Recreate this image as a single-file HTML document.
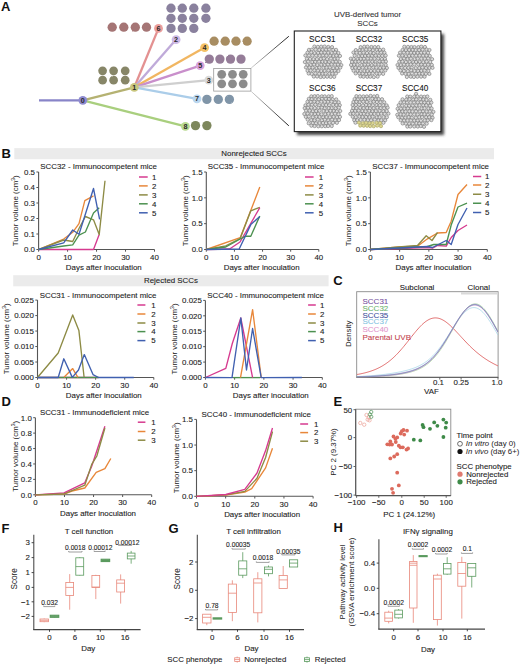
<!DOCTYPE html>
<html><head><meta charset="utf-8"><style>
html,body{margin:0;padding:0;background:#fff;}
body{width:520px;height:664px;overflow:hidden;}
svg{display:block;font-family:"Liberation Sans", sans-serif;}
</style></head><body>
<svg width="520" height="664" viewBox="0 0 520 664">
<text x="1.0" y="10.8" font-size="13" text-anchor="start" fill="#111" font-weight="bold">A</text>
<text x="1.4" y="157.8" font-size="13" text-anchor="start" fill="#111" font-weight="bold">B</text>
<text x="333.2" y="285.0" font-size="13" text-anchor="start" fill="#111" font-weight="bold">C</text>
<text x="1.4" y="405.6" font-size="13" text-anchor="start" fill="#111" font-weight="bold">D</text>
<text x="333.4" y="405.8" font-size="13" text-anchor="start" fill="#111" font-weight="bold">E</text>
<text x="1.5" y="532.5" font-size="13" text-anchor="start" fill="#111" font-weight="bold">F</text>
<text x="168.4" y="532.6" font-size="13" text-anchor="start" fill="#111" font-weight="bold">G</text>
<text x="333.4" y="532.3" font-size="13" text-anchor="start" fill="#111" font-weight="bold">H</text>
<line x1="39" y1="100.3" x2="82.8" y2="100.3" stroke="#8884c8" stroke-width="2.3"/>
<line x1="82.8" y1="100.3" x2="134.3" y2="87.3" stroke="#b5b272" stroke-width="2.3"/>
<line x1="82.8" y1="100.3" x2="185.4" y2="126.3" stroke="#a9cf7e" stroke-width="2.3"/>
<line x1="134.3" y1="87.3" x2="158.5" y2="28.4" stroke="#e39191" stroke-width="2.3"/>
<line x1="134.3" y1="87.3" x2="176.1" y2="39.6" stroke="#bfaad9" stroke-width="2.3"/>
<line x1="134.3" y1="87.3" x2="204.6" y2="47.6" stroke="#f1b661" stroke-width="2.3"/>
<line x1="134.3" y1="87.3" x2="200.2" y2="65.6" stroke="#c98fcb" stroke-width="2.3"/>
<line x1="134.3" y1="87.3" x2="208.8" y2="80.2" stroke="#cfcfcf" stroke-width="2.3"/>
<line x1="134.3" y1="87.3" x2="197.0" y2="98.8" stroke="#abcde9" stroke-width="2.3"/>
<defs><filter id="rough" x="-20%" y="-20%" width="140%" height="140%"><feTurbulence type="fractalNoise" baseFrequency="1.2" numOctaves="2" seed="4" result="n"/><feDisplacementMap in="SourceGraphic" in2="n" scale="1.6" xChannelSelector="R" yChannelSelector="G"/></filter></defs>
<g filter="url(#rough)">
<circle cx="112.2" cy="27.2" r="4.65" fill="#a57474"/>
<circle cx="123.8" cy="27.2" r="4.65" fill="#a57474"/>
<circle cx="135.3" cy="27.2" r="4.65" fill="#a57474"/>
<circle cx="146.5" cy="27.2" r="4.65" fill="#a57474"/>
<circle cx="171.0" cy="8.2" r="4.65" fill="#8a819e"/>
<circle cx="182.3" cy="8.2" r="4.65" fill="#8a819e"/>
<circle cx="193.8" cy="8.2" r="4.65" fill="#8a819e"/>
<circle cx="205.9" cy="8.2" r="4.65" fill="#8a819e"/>
<circle cx="171.0" cy="18.3" r="4.65" fill="#8a819e"/>
<circle cx="182.3" cy="18.3" r="4.65" fill="#8a819e"/>
<circle cx="193.8" cy="18.3" r="4.65" fill="#8a819e"/>
<circle cx="205.9" cy="18.3" r="4.65" fill="#8a819e"/>
<circle cx="171.0" cy="28.4" r="4.65" fill="#8a819e"/>
<circle cx="182.3" cy="28.4" r="4.65" fill="#8a819e"/>
<circle cx="193.8" cy="28.4" r="4.65" fill="#8a819e"/>
<circle cx="214.1" cy="41.2" r="4.65" fill="#a88d62"/>
<circle cx="225.2" cy="41.2" r="4.65" fill="#a88d62"/>
<circle cx="236.0" cy="41.2" r="4.65" fill="#a88d62"/>
<circle cx="247.1" cy="41.2" r="4.65" fill="#a88d62"/>
<circle cx="209.3" cy="59.1" r="4.65" fill="#957c98"/>
<circle cx="219.9" cy="59.1" r="4.65" fill="#957c98"/>
<circle cx="230.5" cy="59.1" r="4.65" fill="#957c98"/>
<circle cx="241.0" cy="59.1" r="4.65" fill="#957c98"/>
<circle cx="102.6" cy="70.8" r="4.35" fill="#878667"/>
<circle cx="113.6" cy="70.8" r="4.35" fill="#878667"/>
<circle cx="125.2" cy="70.8" r="4.35" fill="#878667"/>
<circle cx="102.6" cy="80.2" r="4.35" fill="#878667"/>
<circle cx="113.6" cy="80.2" r="4.35" fill="#878667"/>
<circle cx="125.2" cy="80.2" r="4.35" fill="#878667"/>
<circle cx="221.7" cy="74.3" r="4.4" fill="#8c8c8c"/>
<circle cx="232.5" cy="74.3" r="4.4" fill="#8c8c8c"/>
<circle cx="243.2" cy="74.3" r="4.4" fill="#8c8c8c"/>
<circle cx="221.7" cy="83.8" r="4.4" fill="#8c8c8c"/>
<circle cx="232.5" cy="83.8" r="4.4" fill="#8c8c8c"/>
<circle cx="243.2" cy="83.8" r="4.4" fill="#8c8c8c"/>
<circle cx="206.9" cy="99.4" r="4.65" fill="#8095a8"/>
<circle cx="218.3" cy="99.4" r="4.65" fill="#8095a8"/>
<circle cx="229.4" cy="99.4" r="4.65" fill="#8095a8"/>
<circle cx="195.5" cy="125.6" r="4.65" fill="#7d875c"/>
<circle cx="206.9" cy="125.6" r="4.65" fill="#7d875c"/>
</g>
<circle cx="82.8" cy="100.3" r="4.4" fill="#8f8bd0"/>
<text x="82.8" y="102.8" font-size="7.2" text-anchor="middle" fill="#2a2a2a" font-weight="bold">0</text>
<circle cx="134.3" cy="87.3" r="4.4" fill="#c9c67e"/>
<text x="134.3" y="89.8" font-size="7.2" text-anchor="middle" fill="#2a2a2a" font-weight="bold">1</text>
<circle cx="158.5" cy="28.4" r="4.4" fill="#eb9d9b"/>
<text x="158.5" y="30.9" font-size="7.2" text-anchor="middle" fill="#2a2a2a" font-weight="bold">6</text>
<circle cx="176.1" cy="39.6" r="4.4" fill="#cdb9e6"/>
<text x="176.1" y="42.1" font-size="7.2" text-anchor="middle" fill="#2a2a2a" font-weight="bold">2</text>
<circle cx="204.6" cy="47.6" r="4.4" fill="#f4c266"/>
<text x="204.6" y="50.1" font-size="7.2" text-anchor="middle" fill="#2a2a2a" font-weight="bold">4</text>
<circle cx="200.2" cy="65.6" r="4.4" fill="#d9a3dc"/>
<text x="200.2" y="68.1" font-size="7.2" text-anchor="middle" fill="#2a2a2a" font-weight="bold">5</text>
<circle cx="208.8" cy="80.2" r="4.4" fill="#d9d9d9"/>
<text x="208.8" y="82.7" font-size="7.2" text-anchor="middle" fill="#2a2a2a" font-weight="bold">3</text>
<circle cx="197.0" cy="98.8" r="4.4" fill="#b9d6ef"/>
<text x="197.0" y="101.3" font-size="7.2" text-anchor="middle" fill="#2a2a2a" font-weight="bold">7</text>
<circle cx="185.4" cy="126.3" r="4.4" fill="#b9da90"/>
<text x="185.4" y="128.8" font-size="7.2" text-anchor="middle" fill="#2a2a2a" font-weight="bold">8</text>
<rect x="213.7" y="68.5" width="37.2" height="22.6" fill="none" stroke="#9a9a9a" stroke-width="0.8"/>
<defs><linearGradient id="g1" x1="0" y1="0" x2="1" y2="0"><stop offset="0" stop-color="#ccc"/><stop offset="1" stop-color="#333"/></linearGradient></defs>
<defs><linearGradient id="gl" gradientUnits="userSpaceOnUse" x1="251" y1="0" x2="289" y2="0"><stop offset="0" stop-color="#d0d0d0"/><stop offset="1" stop-color="#1a1a1a"/></linearGradient></defs>
<path d="M251.2,68 L288.8,36.3" stroke="url(#gl)" stroke-width="1" fill="none"/>
<path d="M251.2,91.4 L288.8,125.8" stroke="url(#gl)" stroke-width="1" fill="none"/>
<defs><filter id="sh" x="-10%" y="-10%" width="130%" height="130%"><feGaussianBlur stdDeviation="1.6"/></filter></defs>
<rect x="297" y="34" width="147" height="101" fill="#444" filter="url(#sh)"/>
<rect x="294.3" y="31" width="146.6" height="100.6" fill="#fff" stroke="#222" stroke-width="1.1"/>
<text x="367.5" y="16.5" font-size="7.9" text-anchor="middle" fill="#333" stroke="#333" stroke-width="0.1">UVB-derived tumor</text>
<text x="367.5" y="25.5" font-size="7.9" text-anchor="middle" fill="#333" stroke="#333" stroke-width="0.1">SCCs</text>
<text x="322.3" y="42" font-size="8.2" text-anchor="middle" fill="#151515" stroke="#151515" stroke-width="0.1">SCC31</text>
<text x="369" y="42" font-size="8.2" text-anchor="middle" fill="#151515" stroke="#151515" stroke-width="0.1">SCC32</text>
<text x="415.2" y="42" font-size="8.2" text-anchor="middle" fill="#151515" stroke="#151515" stroke-width="0.1">SCC35</text>
<text x="322.3" y="91" font-size="8.2" text-anchor="middle" fill="#151515" stroke="#151515" stroke-width="0.1">SCC36</text>
<text x="369" y="91" font-size="8.2" text-anchor="middle" fill="#151515" stroke="#151515" stroke-width="0.1">SCC37</text>
<text x="415.2" y="91" font-size="8.2" text-anchor="middle" fill="#151515" stroke="#151515" stroke-width="0.1">SCC40</text>
<g fill="#dcdcdc" stroke="#6e6e6e" stroke-width="0.6"><circle cx="314.40" cy="46.53" r="1.62"/><circle cx="317.86" cy="46.86" r="1.62"/><circle cx="321.17" cy="46.66" r="1.62"/><circle cx="324.66" cy="46.53" r="1.62"/><circle cx="328.30" cy="46.96" r="1.62"/><circle cx="332.05" cy="47.11" r="1.62"/><circle cx="308.95" cy="49.85" r="1.62"/><circle cx="311.83" cy="49.67" r="1.62"/><circle cx="315.55" cy="49.62" r="1.62"/><circle cx="319.20" cy="49.97" r="1.62"/><circle cx="322.46" cy="49.86" r="1.62"/><circle cx="325.97" cy="49.77" r="1.62"/><circle cx="329.08" cy="49.53" r="1.62"/><circle cx="333.19" cy="49.91" r="1.62"/><circle cx="336.08" cy="49.85" r="1.62"/><circle cx="307.48" cy="52.68" r="1.62"/><circle cx="311.28" cy="52.49" r="1.62"/><circle cx="314.63" cy="53.11" r="1.62"/><circle cx="318.07" cy="52.85" r="1.62"/><circle cx="321.26" cy="52.53" r="1.62"/><circle cx="324.81" cy="52.63" r="1.62"/><circle cx="328.20" cy="52.74" r="1.62"/><circle cx="331.68" cy="52.92" r="1.62"/><circle cx="335.08" cy="52.51" r="1.62"/><circle cx="338.33" cy="52.90" r="1.62"/><circle cx="305.39" cy="55.48" r="1.62"/><circle cx="309.00" cy="55.55" r="1.62"/><circle cx="312.52" cy="55.52" r="1.62"/><circle cx="316.10" cy="55.59" r="1.62"/><circle cx="319.68" cy="55.79" r="1.62"/><circle cx="322.96" cy="55.49" r="1.62"/><circle cx="326.37" cy="55.61" r="1.62"/><circle cx="330.16" cy="55.83" r="1.62"/><circle cx="333.40" cy="56.05" r="1.62"/><circle cx="336.44" cy="55.58" r="1.62"/><circle cx="339.99" cy="55.97" r="1.62"/><circle cx="306.84" cy="58.74" r="1.62"/><circle cx="310.06" cy="58.90" r="1.62"/><circle cx="313.50" cy="59.14" r="1.62"/><circle cx="316.95" cy="59.06" r="1.62"/><circle cx="320.85" cy="58.98" r="1.62"/><circle cx="323.82" cy="58.47" r="1.62"/><circle cx="327.12" cy="59.04" r="1.62"/><circle cx="330.94" cy="58.58" r="1.62"/><circle cx="334.67" cy="58.96" r="1.62"/><circle cx="337.70" cy="58.71" r="1.62"/><circle cx="304.86" cy="62.06" r="1.62"/><circle cx="308.10" cy="61.59" r="1.62"/><circle cx="312.22" cy="62.00" r="1.62"/><circle cx="315.13" cy="61.92" r="1.62"/><circle cx="319.09" cy="61.69" r="1.62"/><circle cx="322.36" cy="61.79" r="1.62"/><circle cx="325.50" cy="61.96" r="1.62"/><circle cx="328.90" cy="62.09" r="1.62"/><circle cx="332.76" cy="61.87" r="1.62"/><circle cx="335.94" cy="61.69" r="1.62"/><circle cx="339.74" cy="61.87" r="1.62"/><circle cx="307.34" cy="65.02" r="1.62"/><circle cx="310.67" cy="64.99" r="1.62"/><circle cx="314.09" cy="64.59" r="1.62"/><circle cx="317.32" cy="65.06" r="1.62"/><circle cx="321.23" cy="64.76" r="1.62"/><circle cx="324.59" cy="65.02" r="1.62"/><circle cx="327.96" cy="64.50" r="1.62"/><circle cx="331.56" cy="64.47" r="1.62"/><circle cx="335.08" cy="64.73" r="1.62"/><circle cx="337.95" cy="64.61" r="1.62"/><circle cx="341.36" cy="65.08" r="1.62"/><circle cx="305.95" cy="67.45" r="1.62"/><circle cx="309.63" cy="67.63" r="1.62"/><circle cx="312.71" cy="67.64" r="1.62"/><circle cx="316.48" cy="68.10" r="1.62"/><circle cx="319.37" cy="67.58" r="1.62"/><circle cx="323.43" cy="67.81" r="1.62"/><circle cx="326.65" cy="67.61" r="1.62"/><circle cx="329.86" cy="67.60" r="1.62"/><circle cx="333.29" cy="68.11" r="1.62"/><circle cx="337.00" cy="67.88" r="1.62"/><circle cx="340.26" cy="67.64" r="1.62"/><circle cx="307.55" cy="70.83" r="1.62"/><circle cx="310.61" cy="70.58" r="1.62"/><circle cx="314.43" cy="70.46" r="1.62"/><circle cx="317.94" cy="70.62" r="1.62"/><circle cx="321.29" cy="71.02" r="1.62"/><circle cx="324.74" cy="70.97" r="1.62"/><circle cx="328.51" cy="70.53" r="1.62"/><circle cx="331.98" cy="70.99" r="1.62"/><circle cx="334.82" cy="70.77" r="1.62"/><circle cx="338.40" cy="71.04" r="1.62"/><circle cx="308.71" cy="73.53" r="1.62"/><circle cx="311.79" cy="73.90" r="1.62"/><circle cx="315.31" cy="73.45" r="1.62"/><circle cx="319.15" cy="73.79" r="1.62"/><circle cx="322.63" cy="73.72" r="1.62"/><circle cx="325.72" cy="73.58" r="1.62"/><circle cx="329.38" cy="73.69" r="1.62"/><circle cx="332.42" cy="73.65" r="1.62"/><circle cx="335.92" cy="73.58" r="1.62"/><circle cx="313.82" cy="76.56" r="1.62"/><circle cx="317.09" cy="76.55" r="1.62"/><circle cx="320.60" cy="77.02" r="1.62"/><circle cx="323.85" cy="76.84" r="1.62"/><circle cx="327.16" cy="76.75" r="1.62"/><circle cx="330.67" cy="76.92" r="1.62"/><circle cx="334.22" cy="76.87" r="1.62"/></g>
<g fill="#dcdcdc" stroke="#6e6e6e" stroke-width="0.6"><circle cx="360.64" cy="47.14" r="1.62"/><circle cx="364.22" cy="46.68" r="1.62"/><circle cx="367.51" cy="46.61" r="1.62"/><circle cx="371.43" cy="46.98" r="1.62"/><circle cx="374.80" cy="47.07" r="1.62"/><circle cx="378.26" cy="47.05" r="1.62"/><circle cx="355.81" cy="50.08" r="1.62"/><circle cx="359.52" cy="50.13" r="1.62"/><circle cx="362.75" cy="50.14" r="1.62"/><circle cx="366.15" cy="49.65" r="1.62"/><circle cx="369.74" cy="49.62" r="1.62"/><circle cx="372.89" cy="50.14" r="1.62"/><circle cx="376.82" cy="49.99" r="1.62"/><circle cx="379.97" cy="49.96" r="1.62"/><circle cx="383.27" cy="49.64" r="1.62"/><circle cx="353.44" cy="52.53" r="1.62"/><circle cx="356.56" cy="52.65" r="1.62"/><circle cx="359.89" cy="52.85" r="1.62"/><circle cx="363.44" cy="52.63" r="1.62"/><circle cx="367.01" cy="52.99" r="1.62"/><circle cx="370.42" cy="52.61" r="1.62"/><circle cx="373.67" cy="53.16" r="1.62"/><circle cx="377.58" cy="52.50" r="1.62"/><circle cx="381.08" cy="52.60" r="1.62"/><circle cx="384.45" cy="52.76" r="1.62"/><circle cx="354.62" cy="55.79" r="1.62"/><circle cx="358.56" cy="56.11" r="1.62"/><circle cx="362.10" cy="55.97" r="1.62"/><circle cx="365.10" cy="55.94" r="1.62"/><circle cx="368.46" cy="55.79" r="1.62"/><circle cx="371.93" cy="55.88" r="1.62"/><circle cx="375.65" cy="55.58" r="1.62"/><circle cx="378.92" cy="55.90" r="1.62"/><circle cx="382.21" cy="55.87" r="1.62"/><circle cx="385.68" cy="55.50" r="1.62"/><circle cx="350.83" cy="58.63" r="1.62"/><circle cx="353.76" cy="58.88" r="1.62"/><circle cx="357.60" cy="58.96" r="1.62"/><circle cx="360.78" cy="58.83" r="1.62"/><circle cx="363.96" cy="58.75" r="1.62"/><circle cx="367.89" cy="58.63" r="1.62"/><circle cx="370.96" cy="58.62" r="1.62"/><circle cx="374.65" cy="58.79" r="1.62"/><circle cx="378.19" cy="58.61" r="1.62"/><circle cx="381.86" cy="58.97" r="1.62"/><circle cx="385.00" cy="58.87" r="1.62"/><circle cx="351.96" cy="61.88" r="1.62"/><circle cx="355.46" cy="61.71" r="1.62"/><circle cx="358.70" cy="61.52" r="1.62"/><circle cx="362.26" cy="61.92" r="1.62"/><circle cx="365.43" cy="61.74" r="1.62"/><circle cx="368.71" cy="61.86" r="1.62"/><circle cx="372.22" cy="61.71" r="1.62"/><circle cx="375.52" cy="61.98" r="1.62"/><circle cx="379.32" cy="61.72" r="1.62"/><circle cx="382.89" cy="61.73" r="1.62"/><circle cx="385.90" cy="61.51" r="1.62"/><circle cx="351.07" cy="64.94" r="1.62"/><circle cx="354.23" cy="64.76" r="1.62"/><circle cx="357.61" cy="64.81" r="1.62"/><circle cx="361.54" cy="65.00" r="1.62"/><circle cx="364.91" cy="64.65" r="1.62"/><circle cx="368.12" cy="64.62" r="1.62"/><circle cx="371.70" cy="65.08" r="1.62"/><circle cx="375.25" cy="64.50" r="1.62"/><circle cx="378.83" cy="64.54" r="1.62"/><circle cx="381.62" cy="64.50" r="1.62"/><circle cx="385.72" cy="64.89" r="1.62"/><circle cx="352.28" cy="68.09" r="1.62"/><circle cx="355.42" cy="67.79" r="1.62"/><circle cx="358.98" cy="68.05" r="1.62"/><circle cx="362.75" cy="67.71" r="1.62"/><circle cx="366.25" cy="67.83" r="1.62"/><circle cx="369.46" cy="67.45" r="1.62"/><circle cx="373.22" cy="67.55" r="1.62"/><circle cx="376.39" cy="67.71" r="1.62"/><circle cx="380.16" cy="67.92" r="1.62"/><circle cx="383.63" cy="67.66" r="1.62"/><circle cx="386.87" cy="67.96" r="1.62"/><circle cx="353.58" cy="70.74" r="1.62"/><circle cx="357.64" cy="70.87" r="1.62"/><circle cx="360.48" cy="71.07" r="1.62"/><circle cx="364.35" cy="71.05" r="1.62"/><circle cx="367.44" cy="70.98" r="1.62"/><circle cx="370.96" cy="70.93" r="1.62"/><circle cx="374.40" cy="70.98" r="1.62"/><circle cx="378.15" cy="70.72" r="1.62"/><circle cx="381.57" cy="70.74" r="1.62"/><circle cx="385.30" cy="70.46" r="1.62"/><circle cx="355.69" cy="73.42" r="1.62"/><circle cx="359.32" cy="73.52" r="1.62"/><circle cx="362.79" cy="73.68" r="1.62"/><circle cx="366.24" cy="74.01" r="1.62"/><circle cx="369.25" cy="73.67" r="1.62"/><circle cx="372.80" cy="73.41" r="1.62"/><circle cx="376.72" cy="73.66" r="1.62"/><circle cx="379.76" cy="73.71" r="1.62"/><circle cx="383.16" cy="73.86" r="1.62"/><circle cx="360.41" cy="76.45" r="1.62"/><circle cx="363.54" cy="76.76" r="1.62"/><circle cx="367.28" cy="76.83" r="1.62"/><circle cx="370.33" cy="76.71" r="1.62"/><circle cx="373.81" cy="77.06" r="1.62"/><circle cx="377.64" cy="76.65" r="1.62"/></g>
<g fill="#dcdcdc" stroke="#6e6e6e" stroke-width="0.6"><circle cx="404.33" cy="46.72" r="1.62"/><circle cx="407.97" cy="46.84" r="1.62"/><circle cx="411.43" cy="47.01" r="1.62"/><circle cx="414.54" cy="47.07" r="1.62"/><circle cx="418.37" cy="47.13" r="1.62"/><circle cx="421.26" cy="46.66" r="1.62"/><circle cx="424.92" cy="46.95" r="1.62"/><circle cx="402.55" cy="49.97" r="1.62"/><circle cx="405.90" cy="50.17" r="1.62"/><circle cx="409.15" cy="50.00" r="1.62"/><circle cx="412.78" cy="49.90" r="1.62"/><circle cx="415.70" cy="50.10" r="1.62"/><circle cx="419.16" cy="50.06" r="1.62"/><circle cx="422.66" cy="49.70" r="1.62"/><circle cx="426.61" cy="49.53" r="1.62"/><circle cx="429.48" cy="50.00" r="1.62"/><circle cx="400.05" cy="52.63" r="1.62"/><circle cx="403.91" cy="52.60" r="1.62"/><circle cx="407.54" cy="52.71" r="1.62"/><circle cx="411.01" cy="52.75" r="1.62"/><circle cx="414.20" cy="52.94" r="1.62"/><circle cx="417.67" cy="52.92" r="1.62"/><circle cx="421.09" cy="52.79" r="1.62"/><circle cx="424.35" cy="52.70" r="1.62"/><circle cx="428.00" cy="52.87" r="1.62"/><circle cx="398.91" cy="55.72" r="1.62"/><circle cx="402.41" cy="55.49" r="1.62"/><circle cx="405.81" cy="56.15" r="1.62"/><circle cx="409.11" cy="55.89" r="1.62"/><circle cx="412.49" cy="55.69" r="1.62"/><circle cx="416.11" cy="55.68" r="1.62"/><circle cx="419.68" cy="55.49" r="1.62"/><circle cx="423.10" cy="55.69" r="1.62"/><circle cx="426.60" cy="55.64" r="1.62"/><circle cx="429.79" cy="55.96" r="1.62"/><circle cx="400.88" cy="59.08" r="1.62"/><circle cx="404.03" cy="58.55" r="1.62"/><circle cx="407.46" cy="59.03" r="1.62"/><circle cx="410.90" cy="58.66" r="1.62"/><circle cx="414.67" cy="59.03" r="1.62"/><circle cx="417.77" cy="58.67" r="1.62"/><circle cx="421.32" cy="58.70" r="1.62"/><circle cx="424.87" cy="58.75" r="1.62"/><circle cx="428.13" cy="58.47" r="1.62"/><circle cx="432.09" cy="59.15" r="1.62"/><circle cx="399.18" cy="61.65" r="1.62"/><circle cx="402.42" cy="61.50" r="1.62"/><circle cx="405.91" cy="62.02" r="1.62"/><circle cx="409.80" cy="61.94" r="1.62"/><circle cx="413.24" cy="62.08" r="1.62"/><circle cx="416.07" cy="61.97" r="1.62"/><circle cx="419.72" cy="61.91" r="1.62"/><circle cx="423.25" cy="62.11" r="1.62"/><circle cx="426.65" cy="61.63" r="1.62"/><circle cx="430.20" cy="62.00" r="1.62"/><circle cx="397.52" cy="65.01" r="1.62"/><circle cx="400.85" cy="65.04" r="1.62"/><circle cx="404.05" cy="64.63" r="1.62"/><circle cx="407.60" cy="64.77" r="1.62"/><circle cx="410.76" cy="64.48" r="1.62"/><circle cx="414.29" cy="64.49" r="1.62"/><circle cx="418.25" cy="64.50" r="1.62"/><circle cx="421.33" cy="64.66" r="1.62"/><circle cx="425.01" cy="64.85" r="1.62"/><circle cx="428.14" cy="64.67" r="1.62"/><circle cx="431.84" cy="64.94" r="1.62"/><circle cx="398.48" cy="67.86" r="1.62"/><circle cx="401.62" cy="67.77" r="1.62"/><circle cx="405.11" cy="67.91" r="1.62"/><circle cx="408.44" cy="67.80" r="1.62"/><circle cx="411.76" cy="67.72" r="1.62"/><circle cx="415.78" cy="68.08" r="1.62"/><circle cx="419.24" cy="67.98" r="1.62"/><circle cx="422.39" cy="67.51" r="1.62"/><circle cx="425.98" cy="68.05" r="1.62"/><circle cx="429.43" cy="67.94" r="1.62"/><circle cx="432.49" cy="67.84" r="1.62"/><circle cx="400.48" cy="70.43" r="1.62"/><circle cx="403.89" cy="71.00" r="1.62"/><circle cx="407.84" cy="71.08" r="1.62"/><circle cx="411.26" cy="70.44" r="1.62"/><circle cx="414.51" cy="70.91" r="1.62"/><circle cx="418.13" cy="71.07" r="1.62"/><circle cx="421.28" cy="70.81" r="1.62"/><circle cx="424.67" cy="70.54" r="1.62"/><circle cx="428.39" cy="70.94" r="1.62"/><circle cx="402.09" cy="73.51" r="1.62"/><circle cx="405.55" cy="73.87" r="1.62"/><circle cx="408.81" cy="73.85" r="1.62"/><circle cx="412.02" cy="73.47" r="1.62"/><circle cx="416.01" cy="73.76" r="1.62"/><circle cx="419.32" cy="73.53" r="1.62"/><circle cx="422.41" cy="73.81" r="1.62"/><circle cx="425.88" cy="73.88" r="1.62"/><circle cx="429.38" cy="73.89" r="1.62"/><circle cx="406.87" cy="76.93" r="1.62"/><circle cx="410.79" cy="76.72" r="1.62"/><circle cx="413.87" cy="76.97" r="1.62"/><circle cx="417.39" cy="76.73" r="1.62"/><circle cx="421.05" cy="76.67" r="1.62"/><circle cx="424.57" cy="76.72" r="1.62"/></g>
<g fill="#dcdcdc" stroke="#6e6e6e" stroke-width="0.6"><circle cx="311.34" cy="96.33" r="1.62"/><circle cx="314.62" cy="96.18" r="1.62"/><circle cx="317.77" cy="96.04" r="1.62"/><circle cx="321.75" cy="96.32" r="1.62"/><circle cx="324.75" cy="96.35" r="1.62"/><circle cx="328.61" cy="96.31" r="1.62"/><circle cx="331.73" cy="96.13" r="1.62"/><circle cx="308.80" cy="98.84" r="1.62"/><circle cx="311.70" cy="99.14" r="1.62"/><circle cx="315.25" cy="99.22" r="1.62"/><circle cx="318.85" cy="99.33" r="1.62"/><circle cx="321.95" cy="98.86" r="1.62"/><circle cx="325.79" cy="98.87" r="1.62"/><circle cx="328.93" cy="99.02" r="1.62"/><circle cx="332.74" cy="99.33" r="1.62"/><circle cx="336.22" cy="99.37" r="1.62"/><circle cx="307.46" cy="101.82" r="1.62"/><circle cx="310.80" cy="101.95" r="1.62"/><circle cx="314.39" cy="101.69" r="1.62"/><circle cx="317.72" cy="102.24" r="1.62"/><circle cx="321.26" cy="101.75" r="1.62"/><circle cx="324.80" cy="101.83" r="1.62"/><circle cx="327.99" cy="101.80" r="1.62"/><circle cx="331.51" cy="101.72" r="1.62"/><circle cx="335.03" cy="102.39" r="1.62"/><circle cx="338.68" cy="102.23" r="1.62"/><circle cx="305.51" cy="105.26" r="1.62"/><circle cx="308.36" cy="104.85" r="1.62"/><circle cx="311.94" cy="104.84" r="1.62"/><circle cx="315.34" cy="104.71" r="1.62"/><circle cx="319.09" cy="105.37" r="1.62"/><circle cx="322.77" cy="105.13" r="1.62"/><circle cx="326.11" cy="105.02" r="1.62"/><circle cx="329.19" cy="105.29" r="1.62"/><circle cx="333.14" cy="104.91" r="1.62"/><circle cx="336.50" cy="105.12" r="1.62"/><circle cx="339.76" cy="105.13" r="1.62"/><circle cx="304.66" cy="108.13" r="1.62"/><circle cx="308.06" cy="107.75" r="1.62"/><circle cx="311.35" cy="107.70" r="1.62"/><circle cx="314.78" cy="108.06" r="1.62"/><circle cx="318.43" cy="107.82" r="1.62"/><circle cx="321.88" cy="107.67" r="1.62"/><circle cx="324.76" cy="108.23" r="1.62"/><circle cx="328.75" cy="108.05" r="1.62"/><circle cx="331.72" cy="108.13" r="1.62"/><circle cx="335.66" cy="108.20" r="1.62"/><circle cx="338.85" cy="107.68" r="1.62"/><circle cx="306.00" cy="110.66" r="1.62"/><circle cx="309.67" cy="110.71" r="1.62"/><circle cx="312.80" cy="111.20" r="1.62"/><circle cx="316.15" cy="110.99" r="1.62"/><circle cx="319.50" cy="110.73" r="1.62"/><circle cx="323.51" cy="111.01" r="1.62"/><circle cx="326.94" cy="111.19" r="1.62"/><circle cx="330.40" cy="110.79" r="1.62"/><circle cx="333.82" cy="110.95" r="1.62"/><circle cx="336.80" cy="111.26" r="1.62"/><circle cx="340.24" cy="111.00" r="1.62"/><circle cx="304.34" cy="113.98" r="1.62"/><circle cx="307.75" cy="113.69" r="1.62"/><circle cx="311.45" cy="113.89" r="1.62"/><circle cx="315.00" cy="114.08" r="1.62"/><circle cx="318.19" cy="113.86" r="1.62"/><circle cx="321.54" cy="114.28" r="1.62"/><circle cx="325.27" cy="114.19" r="1.62"/><circle cx="328.42" cy="113.74" r="1.62"/><circle cx="331.81" cy="114.10" r="1.62"/><circle cx="335.07" cy="113.74" r="1.62"/><circle cx="338.58" cy="114.27" r="1.62"/><circle cx="305.80" cy="116.85" r="1.62"/><circle cx="308.81" cy="116.64" r="1.62"/><circle cx="312.83" cy="117.19" r="1.62"/><circle cx="316.36" cy="116.74" r="1.62"/><circle cx="319.49" cy="117.03" r="1.62"/><circle cx="323.13" cy="117.30" r="1.62"/><circle cx="326.50" cy="117.10" r="1.62"/><circle cx="329.93" cy="117.21" r="1.62"/><circle cx="333.59" cy="116.91" r="1.62"/><circle cx="337.02" cy="117.12" r="1.62"/><circle cx="340.01" cy="116.85" r="1.62"/><circle cx="307.69" cy="119.62" r="1.62"/><circle cx="311.23" cy="120.10" r="1.62"/><circle cx="314.56" cy="120.28" r="1.62"/><circle cx="317.86" cy="119.66" r="1.62"/><circle cx="321.90" cy="120.26" r="1.62"/><circle cx="324.87" cy="119.68" r="1.62"/><circle cx="328.26" cy="120.26" r="1.62"/><circle cx="332.10" cy="119.72" r="1.62"/><circle cx="335.21" cy="120.28" r="1.62"/><circle cx="339.01" cy="120.09" r="1.62"/><circle cx="308.72" cy="123.30" r="1.62"/><circle cx="312.75" cy="123.09" r="1.62"/><circle cx="316.04" cy="123.27" r="1.62"/><circle cx="319.53" cy="122.99" r="1.62"/><circle cx="322.99" cy="122.99" r="1.62"/><circle cx="326.04" cy="123.19" r="1.62"/><circle cx="329.43" cy="122.72" r="1.62"/><circle cx="333.01" cy="122.87" r="1.62"/><circle cx="336.88" cy="122.83" r="1.62"/><circle cx="311.40" cy="125.75" r="1.62"/><circle cx="314.61" cy="126.09" r="1.62"/><circle cx="318.30" cy="126.29" r="1.62"/><circle cx="321.82" cy="126.24" r="1.62"/><circle cx="325.22" cy="126.17" r="1.62"/><circle cx="328.15" cy="126.02" r="1.62"/><circle cx="331.74" cy="126.04" r="1.62"/></g>
<g fill="#dcdcdc" stroke="#6e6e6e" stroke-width="0.6"><circle cx="356.43" cy="96.14" r="1.62"/><circle cx="359.79" cy="96.32" r="1.62"/><circle cx="363.39" cy="96.40" r="1.62"/><circle cx="366.89" cy="96.38" r="1.62"/><circle cx="370.61" cy="95.85" r="1.62"/><circle cx="374.07" cy="96.39" r="1.62"/><circle cx="377.24" cy="95.96" r="1.62"/><circle cx="354.58" cy="99.04" r="1.62"/><circle cx="357.84" cy="99.38" r="1.62"/><circle cx="361.78" cy="99.29" r="1.62"/><circle cx="365.26" cy="98.96" r="1.62"/><circle cx="368.16" cy="98.73" r="1.62"/><circle cx="372.27" cy="98.84" r="1.62"/><circle cx="375.70" cy="99.36" r="1.62"/><circle cx="378.75" cy="99.07" r="1.62"/><circle cx="382.03" cy="99.22" r="1.62"/><circle cx="353.38" cy="102.07" r="1.62"/><circle cx="356.41" cy="101.81" r="1.62"/><circle cx="359.74" cy="102.17" r="1.62"/><circle cx="363.20" cy="101.72" r="1.62"/><circle cx="366.91" cy="101.97" r="1.62"/><circle cx="370.40" cy="102.27" r="1.62"/><circle cx="373.73" cy="101.73" r="1.62"/><circle cx="376.91" cy="102.03" r="1.62"/><circle cx="380.43" cy="102.20" r="1.62"/><circle cx="384.23" cy="102.24" r="1.62"/><circle cx="352.60" cy="104.99" r="1.62"/><circle cx="355.87" cy="105.01" r="1.62"/><circle cx="359.10" cy="104.78" r="1.62"/><circle cx="362.96" cy="105.35" r="1.62"/><circle cx="366.06" cy="104.91" r="1.62"/><circle cx="369.35" cy="105.22" r="1.62"/><circle cx="372.87" cy="105.22" r="1.62"/><circle cx="376.55" cy="105.14" r="1.62"/><circle cx="379.77" cy="105.17" r="1.62"/><circle cx="383.30" cy="105.21" r="1.62"/><circle cx="386.62" cy="105.34" r="1.62"/><circle cx="353.21" cy="108.12" r="1.62"/><circle cx="356.33" cy="108.11" r="1.62"/><circle cx="360.12" cy="107.91" r="1.62"/><circle cx="363.60" cy="108.14" r="1.62"/><circle cx="367.11" cy="108.02" r="1.62"/><circle cx="370.01" cy="108.25" r="1.62"/><circle cx="373.67" cy="108.15" r="1.62"/><circle cx="377.30" cy="107.78" r="1.62"/><circle cx="380.65" cy="108.13" r="1.62"/><circle cx="384.13" cy="108.20" r="1.62"/><circle cx="387.64" cy="107.68" r="1.62"/><circle cx="352.01" cy="110.81" r="1.62"/><circle cx="355.22" cy="110.87" r="1.62"/><circle cx="358.72" cy="110.67" r="1.62"/><circle cx="362.30" cy="111.08" r="1.62"/><circle cx="365.65" cy="111.28" r="1.62"/><circle cx="369.21" cy="110.84" r="1.62"/><circle cx="372.46" cy="111.23" r="1.62"/><circle cx="375.86" cy="111.08" r="1.62"/><circle cx="379.66" cy="110.89" r="1.62"/><circle cx="383.40" cy="111.22" r="1.62"/><circle cx="386.75" cy="111.10" r="1.62"/><circle cx="350.32" cy="113.88" r="1.62"/><circle cx="353.34" cy="113.71" r="1.62"/><circle cx="357.22" cy="113.74" r="1.62"/><circle cx="360.86" cy="113.90" r="1.62"/><circle cx="363.85" cy="113.84" r="1.62"/><circle cx="367.41" cy="114.31" r="1.62"/><circle cx="371.01" cy="113.82" r="1.62"/><circle cx="374.39" cy="113.93" r="1.62"/><circle cx="378.18" cy="113.98" r="1.62"/><circle cx="381.27" cy="113.72" r="1.62"/><circle cx="384.70" cy="113.84" r="1.62"/><circle cx="388.42" cy="113.65" r="1.62"/><circle cx="352.71" cy="116.83" r="1.62"/><circle cx="355.80" cy="117.08" r="1.62"/><circle cx="359.44" cy="116.71" r="1.62"/><circle cx="362.58" cy="117.00" r="1.62"/><circle cx="366.03" cy="117.00" r="1.62"/><circle cx="369.53" cy="117.15" r="1.62"/><circle cx="372.75" cy="116.80" r="1.62"/><circle cx="376.81" cy="117.25" r="1.62"/><circle cx="379.63" cy="117.17" r="1.62"/><circle cx="383.48" cy="117.12" r="1.62"/><circle cx="386.86" cy="117.26" r="1.62"/><circle cx="354.23" cy="120.10" r="1.62"/><circle cx="357.30" cy="120.16" r="1.62"/><circle cx="360.65" cy="119.95" r="1.62"/><circle cx="364.35" cy="119.84" r="1.62"/><circle cx="367.86" cy="120.18" r="1.62"/><circle cx="371.06" cy="120.19" r="1.62"/><circle cx="374.81" cy="119.63" r="1.62"/><circle cx="378.48" cy="120.31" r="1.62"/><circle cx="381.28" cy="120.20" r="1.62"/><circle cx="385.15" cy="120.28" r="1.62"/><circle cx="355.48" cy="122.68" r="1.62"/><circle cx="383.44" cy="122.78" r="1.62"/></g>
<g fill="#dcd692" stroke="#a39e5c" stroke-width="0.6"><circle cx="358.95" cy="122.64" r="1.62"/><circle cx="362.87" cy="123.22" r="1.62"/><circle cx="366.10" cy="122.82" r="1.62"/><circle cx="369.59" cy="123.26" r="1.62"/><circle cx="372.74" cy="123.09" r="1.62"/><circle cx="376.59" cy="122.95" r="1.62"/><circle cx="379.99" cy="123.04" r="1.62"/><circle cx="360.27" cy="125.65" r="1.62"/><circle cx="363.67" cy="125.76" r="1.62"/><circle cx="367.04" cy="125.81" r="1.62"/><circle cx="370.18" cy="126.10" r="1.62"/><circle cx="373.71" cy="126.25" r="1.62"/><circle cx="377.21" cy="125.67" r="1.62"/><circle cx="380.97" cy="126.16" r="1.62"/></g>
<g fill="#dcdcdc" stroke="#6e6e6e" stroke-width="0.6"><circle cx="416.09" cy="93.79" r="1.62"/><circle cx="407.21" cy="96.52" r="1.62"/><circle cx="410.23" cy="96.66" r="1.62"/><circle cx="414.21" cy="96.62" r="1.62"/><circle cx="417.45" cy="96.46" r="1.62"/><circle cx="421.08" cy="96.57" r="1.62"/><circle cx="424.38" cy="96.78" r="1.62"/><circle cx="427.36" cy="96.46" r="1.62"/><circle cx="402.54" cy="99.30" r="1.62"/><circle cx="406.26" cy="99.69" r="1.62"/><circle cx="409.65" cy="99.21" r="1.62"/><circle cx="413.19" cy="99.63" r="1.62"/><circle cx="416.27" cy="99.47" r="1.62"/><circle cx="420.16" cy="99.24" r="1.62"/><circle cx="423.43" cy="99.48" r="1.62"/><circle cx="426.53" cy="99.88" r="1.62"/><circle cx="430.28" cy="99.82" r="1.62"/><circle cx="400.57" cy="102.37" r="1.62"/><circle cx="404.04" cy="102.31" r="1.62"/><circle cx="407.03" cy="102.60" r="1.62"/><circle cx="410.57" cy="102.50" r="1.62"/><circle cx="414.02" cy="102.47" r="1.62"/><circle cx="417.72" cy="102.37" r="1.62"/><circle cx="421.08" cy="102.29" r="1.62"/><circle cx="424.41" cy="102.75" r="1.62"/><circle cx="428.11" cy="102.87" r="1.62"/><circle cx="431.36" cy="102.61" r="1.62"/><circle cx="398.69" cy="105.20" r="1.62"/><circle cx="402.18" cy="105.68" r="1.62"/><circle cx="406.21" cy="105.77" r="1.62"/><circle cx="409.14" cy="105.84" r="1.62"/><circle cx="412.75" cy="105.72" r="1.62"/><circle cx="416.25" cy="105.50" r="1.62"/><circle cx="419.61" cy="105.28" r="1.62"/><circle cx="423.23" cy="105.28" r="1.62"/><circle cx="426.32" cy="105.25" r="1.62"/><circle cx="430.03" cy="105.80" r="1.62"/><circle cx="397.61" cy="108.79" r="1.62"/><circle cx="400.91" cy="108.72" r="1.62"/><circle cx="404.53" cy="108.80" r="1.62"/><circle cx="407.87" cy="108.48" r="1.62"/><circle cx="411.27" cy="108.21" r="1.62"/><circle cx="414.91" cy="108.36" r="1.62"/><circle cx="417.73" cy="108.76" r="1.62"/><circle cx="421.80" cy="108.46" r="1.62"/><circle cx="424.60" cy="108.22" r="1.62"/><circle cx="428.47" cy="108.54" r="1.62"/><circle cx="431.60" cy="108.42" r="1.62"/><circle cx="399.13" cy="111.23" r="1.62"/><circle cx="402.39" cy="111.50" r="1.62"/><circle cx="405.57" cy="111.51" r="1.62"/><circle cx="409.34" cy="111.26" r="1.62"/><circle cx="412.52" cy="111.55" r="1.62"/><circle cx="416.02" cy="111.31" r="1.62"/><circle cx="419.96" cy="111.44" r="1.62"/><circle cx="422.99" cy="111.32" r="1.62"/><circle cx="426.77" cy="111.55" r="1.62"/><circle cx="429.90" cy="111.42" r="1.62"/><circle cx="433.40" cy="111.85" r="1.62"/><circle cx="397.30" cy="114.82" r="1.62"/><circle cx="400.72" cy="114.41" r="1.62"/><circle cx="403.76" cy="114.67" r="1.62"/><circle cx="407.68" cy="114.21" r="1.62"/><circle cx="410.66" cy="114.52" r="1.62"/><circle cx="414.24" cy="114.53" r="1.62"/><circle cx="417.74" cy="114.47" r="1.62"/><circle cx="421.59" cy="114.26" r="1.62"/><circle cx="424.52" cy="114.22" r="1.62"/><circle cx="427.92" cy="114.78" r="1.62"/><circle cx="431.81" cy="114.65" r="1.62"/><circle cx="398.36" cy="117.30" r="1.62"/><circle cx="401.91" cy="117.82" r="1.62"/><circle cx="405.32" cy="117.67" r="1.62"/><circle cx="408.71" cy="117.15" r="1.62"/><circle cx="411.82" cy="117.79" r="1.62"/><circle cx="415.84" cy="117.79" r="1.62"/><circle cx="419.23" cy="117.16" r="1.62"/><circle cx="422.10" cy="117.17" r="1.62"/><circle cx="426.12" cy="117.19" r="1.62"/><circle cx="429.18" cy="117.22" r="1.62"/><circle cx="432.57" cy="117.81" r="1.62"/><circle cx="400.72" cy="120.25" r="1.62"/><circle cx="404.12" cy="120.52" r="1.62"/><circle cx="407.57" cy="120.47" r="1.62"/><circle cx="410.87" cy="120.44" r="1.62"/><circle cx="414.27" cy="120.60" r="1.62"/><circle cx="417.68" cy="120.70" r="1.62"/><circle cx="420.91" cy="120.76" r="1.62"/><circle cx="424.85" cy="120.35" r="1.62"/><circle cx="427.79" cy="120.37" r="1.62"/><circle cx="431.41" cy="120.12" r="1.62"/><circle cx="402.66" cy="123.46" r="1.62"/><circle cx="405.89" cy="123.64" r="1.62"/><circle cx="409.23" cy="123.80" r="1.62"/><circle cx="412.84" cy="123.71" r="1.62"/><circle cx="416.43" cy="123.15" r="1.62"/><circle cx="419.40" cy="123.52" r="1.62"/><circle cx="422.88" cy="123.45" r="1.62"/><circle cx="426.70" cy="123.65" r="1.62"/><circle cx="407.35" cy="126.61" r="1.62"/><circle cx="410.27" cy="126.52" r="1.62"/><circle cx="414.21" cy="126.49" r="1.62"/><circle cx="417.78" cy="126.53" r="1.62"/><circle cx="420.74" cy="126.09" r="1.62"/><circle cx="424.02" cy="126.78" r="1.62"/></g>
<rect x="14.3" y="148.1" width="479.7" height="11.1" fill="#ebebeb"/>
<text x="254" y="156.2" font-size="7.9" text-anchor="middle" fill="#222" stroke="#222" stroke-width="0.1">Nonrejected SCCs</text>
<rect x="13.2" y="275.2" width="315.4" height="11.1" fill="#ebebeb"/>
<text x="171" y="283.4" font-size="7.9" text-anchor="middle" fill="#222" stroke="#222" stroke-width="0.1">Rejected SCCs</text>
<line x1="38.6" y1="172" x2="38.6" y2="250.0" stroke="#555" stroke-width="1.1"/>
<line x1="38.1" y1="249.5" x2="154.5" y2="249.5" stroke="#555" stroke-width="1.1"/>
<line x1="36.4" y1="249.5" x2="38.6" y2="249.5" stroke="#555" stroke-width="1"/>
<text x="35.0" y="252.3" font-size="7.9" text-anchor="end" fill="#222" stroke="#222" stroke-width="0.1">0.0</text>
<line x1="36.4" y1="234.0" x2="38.6" y2="234.0" stroke="#555" stroke-width="1"/>
<text x="35.0" y="236.8" font-size="7.9" text-anchor="end" fill="#222" stroke="#222" stroke-width="0.1">0.1</text>
<line x1="36.4" y1="218.5" x2="38.6" y2="218.5" stroke="#555" stroke-width="1"/>
<text x="35.0" y="221.3" font-size="7.9" text-anchor="end" fill="#222" stroke="#222" stroke-width="0.1">0.2</text>
<line x1="36.4" y1="203.0" x2="38.6" y2="203.0" stroke="#555" stroke-width="1"/>
<text x="35.0" y="205.8" font-size="7.9" text-anchor="end" fill="#222" stroke="#222" stroke-width="0.1">0.3</text>
<line x1="36.4" y1="187.5" x2="38.6" y2="187.5" stroke="#555" stroke-width="1"/>
<text x="35.0" y="190.3" font-size="7.9" text-anchor="end" fill="#222" stroke="#222" stroke-width="0.1">0.4</text>
<line x1="36.4" y1="172.0" x2="38.6" y2="172.0" stroke="#555" stroke-width="1"/>
<text x="35.0" y="174.8" font-size="7.9" text-anchor="end" fill="#222" stroke="#222" stroke-width="0.1">0.5</text>
<line x1="38.6" y1="249.5" x2="38.6" y2="251.7" stroke="#555" stroke-width="1"/>
<text x="38.6" y="259.7" font-size="7.9" text-anchor="middle" fill="#222" stroke="#222" stroke-width="0.1">0</text>
<line x1="67.575" y1="249.5" x2="67.575" y2="251.7" stroke="#555" stroke-width="1"/>
<text x="67.575" y="259.7" font-size="7.9" text-anchor="middle" fill="#222" stroke="#222" stroke-width="0.1">10</text>
<line x1="96.55000000000001" y1="249.5" x2="96.55000000000001" y2="251.7" stroke="#555" stroke-width="1"/>
<text x="96.55000000000001" y="259.7" font-size="7.9" text-anchor="middle" fill="#222" stroke="#222" stroke-width="0.1">20</text>
<line x1="125.525" y1="249.5" x2="125.525" y2="251.7" stroke="#555" stroke-width="1"/>
<text x="125.525" y="259.7" font-size="7.9" text-anchor="middle" fill="#222" stroke="#222" stroke-width="0.1">30</text>
<line x1="154.5" y1="249.5" x2="154.5" y2="251.7" stroke="#555" stroke-width="1"/>
<text x="154.5" y="259.7" font-size="7.9" text-anchor="middle" fill="#222" stroke="#222" stroke-width="0.1">40</text>
<text x="98.6" y="169.3" font-size="7.9" text-anchor="middle" fill="#222" stroke="#222" stroke-width="0.1">SCC32 - Immunocompetent mice</text>
<text x="103.8" y="270.1" font-size="7.9" text-anchor="middle" fill="#222" stroke="#222" stroke-width="0.1">Days after inoculation</text>
<text x="18.0" y="210.75" font-size="7.9" text-anchor="middle" fill="#222" transform="rotate(-90 18.0 210.75)">Tumor volume (cm<tspan font-size="5.2" dy="-3">3</tspan><tspan dy="3">)</tspan></text>
<line x1="139" y1="177" x2="147.7" y2="177" stroke="#d63a8f" stroke-width="1.5"/>
<text x="152" y="179.8" font-size="7.9" text-anchor="start" fill="#222" stroke="#222" stroke-width="0.1">1</text>
<line x1="139" y1="185.9" x2="147.7" y2="185.9" stroke="#e8873a" stroke-width="1.5"/>
<text x="152" y="188.70000000000002" font-size="7.9" text-anchor="start" fill="#222" stroke="#222" stroke-width="0.1">2</text>
<line x1="139" y1="194.9" x2="147.7" y2="194.9" stroke="#8d8b45" stroke-width="1.5"/>
<text x="152" y="197.70000000000002" font-size="7.9" text-anchor="start" fill="#222" stroke="#222" stroke-width="0.1">3</text>
<line x1="139" y1="203.8" x2="147.7" y2="203.8" stroke="#4c9150" stroke-width="1.5"/>
<text x="152" y="206.60000000000002" font-size="7.9" text-anchor="start" fill="#222" stroke="#222" stroke-width="0.1">4</text>
<line x1="139" y1="212.8" x2="147.7" y2="212.8" stroke="#4060b0" stroke-width="1.5"/>
<text x="152" y="215.60000000000002" font-size="7.9" text-anchor="start" fill="#222" stroke="#222" stroke-width="0.1">5</text>
<polyline points="38.6,249.5 93.5,249.5 99.2,234.6" fill="none" stroke="#d63a8f" stroke-width="1.35" stroke-linejoin="round"/>
<polyline points="38.6,249.5 63.7,239.0 72.7,232.3 79.0,223.7 84.8,200.6 93.5,195.8" fill="none" stroke="#e8873a" stroke-width="1.35" stroke-linejoin="round"/>
<polyline points="38.6,249.5 63.7,240.0 72.7,241.5 79.0,228.5 85.4,216.5 93.5,219.8 99.2,234.6 105.0,180.8" fill="none" stroke="#8d8b45" stroke-width="1.35" stroke-linejoin="round"/>
<polyline points="38.6,249.5 63.7,246.0 72.7,244.8 79.0,235.2 85.4,232.0 93.5,213.0 99.2,207.7" fill="none" stroke="#4c9150" stroke-width="1.35" stroke-linejoin="round"/>
<polyline points="38.6,249.5 63.7,242.9 72.7,230.0 79.0,234.2 93.5,188.5 99.6,219.4" fill="none" stroke="#4060b0" stroke-width="1.35" stroke-linejoin="round"/>
<line x1="206.3" y1="172" x2="206.3" y2="250.0" stroke="#555" stroke-width="1.1"/>
<line x1="205.8" y1="249.5" x2="318.8" y2="249.5" stroke="#555" stroke-width="1.1"/>
<line x1="204.10000000000002" y1="249.5" x2="206.3" y2="249.5" stroke="#555" stroke-width="1"/>
<text x="202.70000000000002" y="252.3" font-size="7.9" text-anchor="end" fill="#222" stroke="#222" stroke-width="0.1">0.0</text>
<line x1="204.10000000000002" y1="223.66666666666666" x2="206.3" y2="223.66666666666666" stroke="#555" stroke-width="1"/>
<text x="202.70000000000002" y="226.46666666666667" font-size="7.9" text-anchor="end" fill="#222" stroke="#222" stroke-width="0.1">0.5</text>
<line x1="204.10000000000002" y1="197.83333333333334" x2="206.3" y2="197.83333333333334" stroke="#555" stroke-width="1"/>
<text x="202.70000000000002" y="200.63333333333335" font-size="7.9" text-anchor="end" fill="#222" stroke="#222" stroke-width="0.1">1.0</text>
<line x1="204.10000000000002" y1="172.0" x2="206.3" y2="172.0" stroke="#555" stroke-width="1"/>
<text x="202.70000000000002" y="174.8" font-size="7.9" text-anchor="end" fill="#222" stroke="#222" stroke-width="0.1">1.5</text>
<line x1="206.3" y1="249.5" x2="206.3" y2="251.7" stroke="#555" stroke-width="1"/>
<text x="206.3" y="259.7" font-size="7.9" text-anchor="middle" fill="#222" stroke="#222" stroke-width="0.1">0</text>
<line x1="234.425" y1="249.5" x2="234.425" y2="251.7" stroke="#555" stroke-width="1"/>
<text x="234.425" y="259.7" font-size="7.9" text-anchor="middle" fill="#222" stroke="#222" stroke-width="0.1">10</text>
<line x1="262.55" y1="249.5" x2="262.55" y2="251.7" stroke="#555" stroke-width="1"/>
<text x="262.55" y="259.7" font-size="7.9" text-anchor="middle" fill="#222" stroke="#222" stroke-width="0.1">20</text>
<line x1="290.675" y1="249.5" x2="290.675" y2="251.7" stroke="#555" stroke-width="1"/>
<text x="290.675" y="259.7" font-size="7.9" text-anchor="middle" fill="#222" stroke="#222" stroke-width="0.1">30</text>
<line x1="318.8" y1="249.5" x2="318.8" y2="251.7" stroke="#555" stroke-width="1"/>
<text x="318.8" y="259.7" font-size="7.9" text-anchor="middle" fill="#222" stroke="#222" stroke-width="0.1">40</text>
<text x="266" y="169.3" font-size="7.9" text-anchor="middle" fill="#222" stroke="#222" stroke-width="0.1">SCC35 - Immunocompetent mice</text>
<text x="261.7" y="270.1" font-size="7.9" text-anchor="middle" fill="#222" stroke="#222" stroke-width="0.1">Days after inoculation</text>
<text x="188.0" y="210.75" font-size="7.9" text-anchor="middle" fill="#222" transform="rotate(-90 188.0 210.75)">Tumor volume (cm<tspan font-size="5.2" dy="-3">3</tspan><tspan dy="3">)</tspan></text>
<line x1="305" y1="177" x2="313.6" y2="177" stroke="#d63a8f" stroke-width="1.5"/>
<text x="318.8" y="179.8" font-size="7.9" text-anchor="start" fill="#222" stroke="#222" stroke-width="0.1">1</text>
<line x1="305" y1="185.9" x2="313.6" y2="185.9" stroke="#e8873a" stroke-width="1.5"/>
<text x="318.8" y="188.70000000000002" font-size="7.9" text-anchor="start" fill="#222" stroke="#222" stroke-width="0.1">2</text>
<line x1="305" y1="194.9" x2="313.6" y2="194.9" stroke="#8d8b45" stroke-width="1.5"/>
<text x="318.8" y="197.70000000000002" font-size="7.9" text-anchor="start" fill="#222" stroke="#222" stroke-width="0.1">3</text>
<line x1="305" y1="203.8" x2="313.6" y2="203.8" stroke="#4c9150" stroke-width="1.5"/>
<text x="318.8" y="206.60000000000002" font-size="7.9" text-anchor="start" fill="#222" stroke="#222" stroke-width="0.1">4</text>
<line x1="305" y1="212.8" x2="313.6" y2="212.8" stroke="#4060b0" stroke-width="1.5"/>
<text x="318.8" y="215.60000000000002" font-size="7.9" text-anchor="start" fill="#222" stroke="#222" stroke-width="0.1">5</text>
<polyline points="206.3,249.5 240.2,237.7 259.8,187.1" fill="none" stroke="#e8873a" stroke-width="1.35" stroke-linejoin="round"/>
<polyline points="206.3,249.5 225.8,245.8 240.2,238.5 250.8,210.8 259.8,207.3" fill="none" stroke="#8d8b45" stroke-width="1.35" stroke-linejoin="round"/>
<polyline points="206.3,249.5 229.6,249.0 240.0,242.0 259.8,207.7" fill="none" stroke="#d63a8f" stroke-width="1.35" stroke-linejoin="round"/>
<polyline points="206.3,249.5 225.8,247.0 240.2,239.0 245.4,236.2 250.8,236.2 259.8,216.0" fill="none" stroke="#4c9150" stroke-width="1.35" stroke-linejoin="round"/>
<polyline points="206.3,249.5 239.2,249.0 250.8,224.6 259.8,216.5" fill="none" stroke="#4060b0" stroke-width="1.35" stroke-linejoin="round"/>
<line x1="370.4" y1="172" x2="370.4" y2="250.0" stroke="#555" stroke-width="1.1"/>
<line x1="369.9" y1="249.5" x2="487.3" y2="249.5" stroke="#555" stroke-width="1.1"/>
<line x1="368.2" y1="249.5" x2="370.4" y2="249.5" stroke="#555" stroke-width="1"/>
<text x="366.79999999999995" y="252.3" font-size="7.9" text-anchor="end" fill="#222" stroke="#222" stroke-width="0.1">0.0</text>
<line x1="368.2" y1="223.66666666666666" x2="370.4" y2="223.66666666666666" stroke="#555" stroke-width="1"/>
<text x="366.79999999999995" y="226.46666666666667" font-size="7.9" text-anchor="end" fill="#222" stroke="#222" stroke-width="0.1">0.5</text>
<line x1="368.2" y1="197.83333333333334" x2="370.4" y2="197.83333333333334" stroke="#555" stroke-width="1"/>
<text x="366.79999999999995" y="200.63333333333335" font-size="7.9" text-anchor="end" fill="#222" stroke="#222" stroke-width="0.1">1.0</text>
<line x1="368.2" y1="172.0" x2="370.4" y2="172.0" stroke="#555" stroke-width="1"/>
<text x="366.79999999999995" y="174.8" font-size="7.9" text-anchor="end" fill="#222" stroke="#222" stroke-width="0.1">1.5</text>
<line x1="370.4" y1="249.5" x2="370.4" y2="251.7" stroke="#555" stroke-width="1"/>
<text x="370.4" y="259.7" font-size="7.9" text-anchor="middle" fill="#222" stroke="#222" stroke-width="0.1">0</text>
<line x1="399.625" y1="249.5" x2="399.625" y2="251.7" stroke="#555" stroke-width="1"/>
<text x="399.625" y="259.7" font-size="7.9" text-anchor="middle" fill="#222" stroke="#222" stroke-width="0.1">10</text>
<line x1="428.85" y1="249.5" x2="428.85" y2="251.7" stroke="#555" stroke-width="1"/>
<text x="428.85" y="259.7" font-size="7.9" text-anchor="middle" fill="#222" stroke="#222" stroke-width="0.1">20</text>
<line x1="458.075" y1="249.5" x2="458.075" y2="251.7" stroke="#555" stroke-width="1"/>
<text x="458.075" y="259.7" font-size="7.9" text-anchor="middle" fill="#222" stroke="#222" stroke-width="0.1">30</text>
<line x1="487.3" y1="249.5" x2="487.3" y2="251.7" stroke="#555" stroke-width="1"/>
<text x="487.3" y="259.7" font-size="7.9" text-anchor="middle" fill="#222" stroke="#222" stroke-width="0.1">40</text>
<text x="430.7" y="169.3" font-size="7.9" text-anchor="middle" fill="#222" stroke="#222" stroke-width="0.1">SCC37 - Immunocompetent mice</text>
<text x="433.5" y="270.1" font-size="7.9" text-anchor="middle" fill="#222" stroke="#222" stroke-width="0.1">Days after inoculation</text>
<text x="351.1" y="210.75" font-size="7.9" text-anchor="middle" fill="#222" transform="rotate(-90 351.1 210.75)">Tumor volume (cm<tspan font-size="5.2" dy="-3">3</tspan><tspan dy="3">)</tspan></text>
<line x1="473" y1="176.5" x2="481.25" y2="176.5" stroke="#d63a8f" stroke-width="1.5"/>
<text x="485" y="179.3" font-size="7.9" text-anchor="start" fill="#222" stroke="#222" stroke-width="0.1">1</text>
<line x1="473" y1="185" x2="481.25" y2="185" stroke="#e8873a" stroke-width="1.5"/>
<text x="485" y="187.8" font-size="7.9" text-anchor="start" fill="#222" stroke="#222" stroke-width="0.1">2</text>
<line x1="473" y1="194.25" x2="481.25" y2="194.25" stroke="#8d8b45" stroke-width="1.5"/>
<text x="485" y="197.05" font-size="7.9" text-anchor="start" fill="#222" stroke="#222" stroke-width="0.1">3</text>
<line x1="473" y1="203.25" x2="481.25" y2="203.25" stroke="#4c9150" stroke-width="1.5"/>
<text x="485" y="206.05" font-size="7.9" text-anchor="start" fill="#222" stroke="#222" stroke-width="0.1">4</text>
<line x1="473" y1="212.5" x2="481.25" y2="212.5" stroke="#4060b0" stroke-width="1.5"/>
<text x="485" y="215.3" font-size="7.9" text-anchor="start" fill="#222" stroke="#222" stroke-width="0.1">5</text>
<polyline points="370.4,249.5 427.5,247.5 432.5,248.2 437.5,245.5 446.2,246.2 451.2,237.5 458.0,230.5 467.0,225.0" fill="none" stroke="#d63a8f" stroke-width="1.35" stroke-linejoin="round"/>
<polyline points="370.4,249.5 398.8,247.0 417.5,246.2 427.5,238.8 437.5,233.0 446.2,232.5 451.2,221.2 458.0,194.5 467.0,184.5" fill="none" stroke="#e8873a" stroke-width="1.35" stroke-linejoin="round"/>
<polyline points="370.4,249.5 398.8,246.8 417.5,245.5 426.2,235.8 432.0,240.5 437.5,232.5" fill="none" stroke="#8d8b45" stroke-width="1.35" stroke-linejoin="round"/>
<polyline points="370.4,249.5 427.5,246.5 433.8,244.5 446.2,244.5 451.2,225.0 458.0,207.0 467.0,203.2" fill="none" stroke="#4c9150" stroke-width="1.35" stroke-linejoin="round"/>
<polyline points="370.4,249.5 427.5,246.5 432.5,247.5 446.2,240.5 451.2,244.5 458.0,224.5 467.0,208.0" fill="none" stroke="#4060b0" stroke-width="1.35" stroke-linejoin="round"/>
<line x1="37.5" y1="300.1" x2="37.5" y2="378.0" stroke="#555" stroke-width="1.1"/>
<line x1="37.0" y1="377.5" x2="153.8" y2="377.5" stroke="#555" stroke-width="1.1"/>
<line x1="35.3" y1="377.5" x2="37.5" y2="377.5" stroke="#555" stroke-width="1"/>
<text x="33.9" y="380.3" font-size="7.9" text-anchor="end" fill="#222" stroke="#222" stroke-width="0.1">0.000</text>
<line x1="35.3" y1="362.02" x2="37.5" y2="362.02" stroke="#555" stroke-width="1"/>
<text x="33.9" y="364.82" font-size="7.9" text-anchor="end" fill="#222" stroke="#222" stroke-width="0.1">0.005</text>
<line x1="35.3" y1="346.54" x2="37.5" y2="346.54" stroke="#555" stroke-width="1"/>
<text x="33.9" y="349.34000000000003" font-size="7.9" text-anchor="end" fill="#222" stroke="#222" stroke-width="0.1">0.010</text>
<line x1="35.3" y1="331.06" x2="37.5" y2="331.06" stroke="#555" stroke-width="1"/>
<text x="33.9" y="333.86" font-size="7.9" text-anchor="end" fill="#222" stroke="#222" stroke-width="0.1">0.015</text>
<line x1="35.3" y1="315.58000000000004" x2="37.5" y2="315.58000000000004" stroke="#555" stroke-width="1"/>
<text x="33.9" y="318.38000000000005" font-size="7.9" text-anchor="end" fill="#222" stroke="#222" stroke-width="0.1">0.020</text>
<line x1="35.3" y1="300.1" x2="37.5" y2="300.1" stroke="#555" stroke-width="1"/>
<text x="33.9" y="302.90000000000003" font-size="7.9" text-anchor="end" fill="#222" stroke="#222" stroke-width="0.1">0.025</text>
<line x1="37.5" y1="377.5" x2="37.5" y2="379.7" stroke="#555" stroke-width="1"/>
<text x="37.5" y="387.7" font-size="7.9" text-anchor="middle" fill="#222" stroke="#222" stroke-width="0.1">0</text>
<line x1="66.575" y1="377.5" x2="66.575" y2="379.7" stroke="#555" stroke-width="1"/>
<text x="66.575" y="387.7" font-size="7.9" text-anchor="middle" fill="#222" stroke="#222" stroke-width="0.1">10</text>
<line x1="95.65" y1="377.5" x2="95.65" y2="379.7" stroke="#555" stroke-width="1"/>
<text x="95.65" y="387.7" font-size="7.9" text-anchor="middle" fill="#222" stroke="#222" stroke-width="0.1">20</text>
<line x1="124.72500000000001" y1="377.5" x2="124.72500000000001" y2="379.7" stroke="#555" stroke-width="1"/>
<text x="124.72500000000001" y="387.7" font-size="7.9" text-anchor="middle" fill="#222" stroke="#222" stroke-width="0.1">30</text>
<line x1="153.8" y1="377.5" x2="153.8" y2="379.7" stroke="#555" stroke-width="1"/>
<text x="153.8" y="387.7" font-size="7.9" text-anchor="middle" fill="#222" stroke="#222" stroke-width="0.1">40</text>
<text x="98" y="298.2" font-size="7.9" text-anchor="middle" fill="#222" stroke="#222" stroke-width="0.1">SCC31 - Immunocompetent mice</text>
<text x="103.8" y="398.2" font-size="7.9" text-anchor="middle" fill="#222" stroke="#222" stroke-width="0.1">Days after inoculation</text>
<text x="9.0" y="338.8" font-size="7.9" text-anchor="middle" fill="#222" transform="rotate(-90 9.0 338.8)">Tumor volume (cm<tspan font-size="5.2" dy="-3">3</tspan><tspan dy="3">)</tspan></text>
<line x1="137.4" y1="305" x2="145.4" y2="305" stroke="#d63a8f" stroke-width="1.5"/>
<text x="151.3" y="307.8" font-size="7.9" text-anchor="start" fill="#222" stroke="#222" stroke-width="0.1">1</text>
<line x1="137.4" y1="314" x2="145.4" y2="314" stroke="#e8873a" stroke-width="1.5"/>
<text x="151.3" y="316.8" font-size="7.9" text-anchor="start" fill="#222" stroke="#222" stroke-width="0.1">2</text>
<line x1="137.4" y1="323" x2="145.4" y2="323" stroke="#8d8b45" stroke-width="1.5"/>
<text x="151.3" y="325.8" font-size="7.9" text-anchor="start" fill="#222" stroke="#222" stroke-width="0.1">3</text>
<line x1="137.4" y1="331.6" x2="145.4" y2="331.6" stroke="#4c9150" stroke-width="1.5"/>
<text x="151.3" y="334.40000000000003" font-size="7.9" text-anchor="start" fill="#222" stroke="#222" stroke-width="0.1">4</text>
<line x1="137.4" y1="340.6" x2="145.4" y2="340.6" stroke="#4060b0" stroke-width="1.5"/>
<text x="151.3" y="343.40000000000003" font-size="7.9" text-anchor="start" fill="#222" stroke="#222" stroke-width="0.1">5</text>
<polyline points="37.5,377.5 98.5,377.5" fill="none" stroke="#d63a8f" stroke-width="1.35" stroke-linejoin="round"/>
<polyline points="37.5,377.5 98.5,377.5" fill="none" stroke="#4c9150" stroke-width="1.35" stroke-linejoin="round"/>
<polyline points="37.5,377.5 58.2,353.0 72.7,315.0 78.9,330.6 84.1,377.3" fill="none" stroke="#8d8b45" stroke-width="1.35" stroke-linejoin="round"/>
<polyline points="64.0,377.3 72.7,368.6 77.9,377.3" fill="none" stroke="#e8873a" stroke-width="1.35" stroke-linejoin="round"/>
<polyline points="37.5,377.5 58.2,377.5 63.8,358.8 72.3,377.4 78.5,370.0 84.3,354.6 93.0,374.6 98.5,377.5 133.8,377.5" fill="none" stroke="#4060b0" stroke-width="1.35" stroke-linejoin="round"/>
<line x1="205.4" y1="300.4" x2="205.4" y2="378.0" stroke="#555" stroke-width="1.1"/>
<line x1="204.9" y1="377.5" x2="322.3" y2="377.5" stroke="#555" stroke-width="1.1"/>
<line x1="203.20000000000002" y1="377.5" x2="205.4" y2="377.5" stroke="#555" stroke-width="1"/>
<text x="201.8" y="380.3" font-size="7.9" text-anchor="end" fill="#222" stroke="#222" stroke-width="0.1">0.000</text>
<line x1="203.20000000000002" y1="362.08" x2="205.4" y2="362.08" stroke="#555" stroke-width="1"/>
<text x="201.8" y="364.88" font-size="7.9" text-anchor="end" fill="#222" stroke="#222" stroke-width="0.1">0.005</text>
<line x1="203.20000000000002" y1="346.65999999999997" x2="205.4" y2="346.65999999999997" stroke="#555" stroke-width="1"/>
<text x="201.8" y="349.46" font-size="7.9" text-anchor="end" fill="#222" stroke="#222" stroke-width="0.1">0.010</text>
<line x1="203.20000000000002" y1="331.24" x2="205.4" y2="331.24" stroke="#555" stroke-width="1"/>
<text x="201.8" y="334.04" font-size="7.9" text-anchor="end" fill="#222" stroke="#222" stroke-width="0.1">0.015</text>
<line x1="203.20000000000002" y1="315.82" x2="205.4" y2="315.82" stroke="#555" stroke-width="1"/>
<text x="201.8" y="318.62" font-size="7.9" text-anchor="end" fill="#222" stroke="#222" stroke-width="0.1">0.020</text>
<line x1="203.20000000000002" y1="300.4" x2="205.4" y2="300.4" stroke="#555" stroke-width="1"/>
<text x="201.8" y="303.2" font-size="7.9" text-anchor="end" fill="#222" stroke="#222" stroke-width="0.1">0.025</text>
<line x1="205.4" y1="377.5" x2="205.4" y2="379.7" stroke="#555" stroke-width="1"/>
<text x="205.4" y="387.7" font-size="7.9" text-anchor="middle" fill="#222" stroke="#222" stroke-width="0.1">0</text>
<line x1="234.625" y1="377.5" x2="234.625" y2="379.7" stroke="#555" stroke-width="1"/>
<text x="234.625" y="387.7" font-size="7.9" text-anchor="middle" fill="#222" stroke="#222" stroke-width="0.1">10</text>
<line x1="263.85" y1="377.5" x2="263.85" y2="379.7" stroke="#555" stroke-width="1"/>
<text x="263.85" y="387.7" font-size="7.9" text-anchor="middle" fill="#222" stroke="#222" stroke-width="0.1">20</text>
<line x1="293.07500000000005" y1="377.5" x2="293.07500000000005" y2="379.7" stroke="#555" stroke-width="1"/>
<text x="293.07500000000005" y="387.7" font-size="7.9" text-anchor="middle" fill="#222" stroke="#222" stroke-width="0.1">30</text>
<line x1="322.3" y1="377.5" x2="322.3" y2="379.7" stroke="#555" stroke-width="1"/>
<text x="322.3" y="387.7" font-size="7.9" text-anchor="middle" fill="#222" stroke="#222" stroke-width="0.1">40</text>
<text x="265.6" y="298.2" font-size="7.9" text-anchor="middle" fill="#222" stroke="#222" stroke-width="0.1">SCC40 - Immunocompetent mice</text>
<text x="270.8" y="398.2" font-size="7.9" text-anchor="middle" fill="#222" stroke="#222" stroke-width="0.1">Days after inoculation</text>
<text x="177.3" y="338.95" font-size="7.9" text-anchor="middle" fill="#222" transform="rotate(-90 177.3 338.95)">Tumor volume (cm<tspan font-size="5.2" dy="-3">3</tspan><tspan dy="3">)</tspan></text>
<line x1="308.1" y1="305" x2="315.8" y2="305" stroke="#d63a8f" stroke-width="1.5"/>
<text x="320" y="307.8" font-size="7.9" text-anchor="start" fill="#222" stroke="#222" stroke-width="0.1">1</text>
<line x1="308.1" y1="314" x2="315.8" y2="314" stroke="#e8873a" stroke-width="1.5"/>
<text x="320" y="316.8" font-size="7.9" text-anchor="start" fill="#222" stroke="#222" stroke-width="0.1">2</text>
<line x1="308.1" y1="323" x2="315.8" y2="323" stroke="#8d8b45" stroke-width="1.5"/>
<text x="320" y="325.8" font-size="7.9" text-anchor="start" fill="#222" stroke="#222" stroke-width="0.1">3</text>
<line x1="308.1" y1="331.6" x2="315.8" y2="331.6" stroke="#4c9150" stroke-width="1.5"/>
<text x="320" y="334.40000000000003" font-size="7.9" text-anchor="start" fill="#222" stroke="#222" stroke-width="0.1">4</text>
<line x1="308.1" y1="340.6" x2="315.8" y2="340.6" stroke="#4060b0" stroke-width="1.5"/>
<text x="320" y="343.40000000000003" font-size="7.9" text-anchor="start" fill="#222" stroke="#222" stroke-width="0.1">5</text>
<polyline points="233.0,377.6 260.0,377.6" fill="none" stroke="#4c9150" stroke-width="1.35" stroke-linejoin="round"/>
<polyline points="205.4,377.5 225.8,368.4 232.3,343.5 240.8,318.0 252.6,377.6" fill="none" stroke="#d63a8f" stroke-width="1.35" stroke-linejoin="round"/>
<polyline points="240.5,377.6 252.6,309.6 261.2,377.6" fill="none" stroke="#e8873a" stroke-width="1.35" stroke-linejoin="round"/>
<polyline points="205.4,377.5 232.0,377.6 240.8,318.0 246.5,370.0 252.6,328.5 261.2,377.6 301.9,377.5" fill="none" stroke="#4060b0" stroke-width="1.35" stroke-linejoin="round"/>
<line x1="35.4" y1="417.7" x2="35.4" y2="495.3" stroke="#555" stroke-width="1.1"/>
<line x1="34.9" y1="494.8" x2="151.7" y2="494.8" stroke="#555" stroke-width="1.1"/>
<line x1="33.199999999999996" y1="494.8" x2="35.4" y2="494.8" stroke="#555" stroke-width="1"/>
<text x="31.799999999999997" y="497.6" font-size="7.9" text-anchor="end" fill="#222" stroke="#222" stroke-width="0.1">0.0</text>
<line x1="33.199999999999996" y1="479.38" x2="35.4" y2="479.38" stroke="#555" stroke-width="1"/>
<text x="31.799999999999997" y="482.18" font-size="7.9" text-anchor="end" fill="#222" stroke="#222" stroke-width="0.1">0.2</text>
<line x1="33.199999999999996" y1="463.96" x2="35.4" y2="463.96" stroke="#555" stroke-width="1"/>
<text x="31.799999999999997" y="466.76" font-size="7.9" text-anchor="end" fill="#222" stroke="#222" stroke-width="0.1">0.4</text>
<line x1="33.199999999999996" y1="448.54" x2="35.4" y2="448.54" stroke="#555" stroke-width="1"/>
<text x="31.799999999999997" y="451.34000000000003" font-size="7.9" text-anchor="end" fill="#222" stroke="#222" stroke-width="0.1">0.6</text>
<line x1="33.199999999999996" y1="433.12" x2="35.4" y2="433.12" stroke="#555" stroke-width="1"/>
<text x="31.799999999999997" y="435.92" font-size="7.9" text-anchor="end" fill="#222" stroke="#222" stroke-width="0.1">0.8</text>
<line x1="33.199999999999996" y1="417.7" x2="35.4" y2="417.7" stroke="#555" stroke-width="1"/>
<text x="31.799999999999997" y="420.5" font-size="7.9" text-anchor="end" fill="#222" stroke="#222" stroke-width="0.1">1.0</text>
<line x1="35.4" y1="494.8" x2="35.4" y2="497.0" stroke="#555" stroke-width="1"/>
<text x="35.4" y="505.0" font-size="7.9" text-anchor="middle" fill="#222" stroke="#222" stroke-width="0.1">0</text>
<line x1="64.475" y1="494.8" x2="64.475" y2="497.0" stroke="#555" stroke-width="1"/>
<text x="64.475" y="505.0" font-size="7.9" text-anchor="middle" fill="#222" stroke="#222" stroke-width="0.1">10</text>
<line x1="93.54999999999998" y1="494.8" x2="93.54999999999998" y2="497.0" stroke="#555" stroke-width="1"/>
<text x="93.54999999999998" y="505.0" font-size="7.9" text-anchor="middle" fill="#222" stroke="#222" stroke-width="0.1">20</text>
<line x1="122.625" y1="494.8" x2="122.625" y2="497.0" stroke="#555" stroke-width="1"/>
<text x="122.625" y="505.0" font-size="7.9" text-anchor="middle" fill="#222" stroke="#222" stroke-width="0.1">30</text>
<line x1="151.7" y1="494.8" x2="151.7" y2="497.0" stroke="#555" stroke-width="1"/>
<text x="151.7" y="505.0" font-size="7.9" text-anchor="middle" fill="#222" stroke="#222" stroke-width="0.1">40</text>
<text x="94.5" y="415.4" font-size="7.9" text-anchor="middle" fill="#222" stroke="#222" stroke-width="0.1">SCC31 - Immunodeficient mice</text>
<text x="98" y="515.8" font-size="7.9" text-anchor="middle" fill="#222" stroke="#222" stroke-width="0.1">Days after inoculation</text>
<text x="18.0" y="456.25" font-size="7.9" text-anchor="middle" fill="#222" transform="rotate(-90 18.0 456.25)">Tumor volume (cm<tspan font-size="5.2" dy="-3">3</tspan><tspan dy="3">)</tspan></text>
<line x1="137.8" y1="422.2" x2="145.4" y2="422.2" stroke="#d63a8f" stroke-width="1.5"/>
<text x="151.3" y="425.0" font-size="7.9" text-anchor="start" fill="#222" stroke="#222" stroke-width="0.1">1</text>
<line x1="137.8" y1="431.5" x2="145.4" y2="431.5" stroke="#e8873a" stroke-width="1.5"/>
<text x="151.3" y="434.3" font-size="7.9" text-anchor="start" fill="#222" stroke="#222" stroke-width="0.1">2</text>
<line x1="137.8" y1="440.2" x2="145.4" y2="440.2" stroke="#8d8b45" stroke-width="1.5"/>
<text x="151.3" y="443.0" font-size="7.9" text-anchor="start" fill="#222" stroke="#222" stroke-width="0.1">3</text>
<polyline points="35.4,494.8 64.0,494.0 72.0,491.0 84.8,488.0 96.2,472.4 104.9,468.6 110.8,458.5" fill="none" stroke="#e8873a" stroke-width="1.35" stroke-linejoin="round"/>
<polyline points="35.4,494.8 64.0,492.8 84.8,482.8 91.7,466.2 104.9,426.3" fill="none" stroke="#d63a8f" stroke-width="1.35" stroke-linejoin="round"/>
<polyline points="35.4,494.8 64.0,494.0 84.8,485.2 91.7,464.4 96.9,455.8 104.9,428.0" fill="none" stroke="#8d8b45" stroke-width="1.35" stroke-linejoin="round"/>
<line x1="196.5" y1="419.4" x2="196.5" y2="496.8" stroke="#555" stroke-width="1.1"/>
<line x1="196.0" y1="496.3" x2="313.1" y2="496.3" stroke="#555" stroke-width="1.1"/>
<line x1="194.3" y1="496.3" x2="196.5" y2="496.3" stroke="#555" stroke-width="1"/>
<text x="192.9" y="499.1" font-size="7.9" text-anchor="end" fill="#222" stroke="#222" stroke-width="0.1">0.0</text>
<line x1="194.3" y1="470.6666666666667" x2="196.5" y2="470.6666666666667" stroke="#555" stroke-width="1"/>
<text x="192.9" y="473.4666666666667" font-size="7.9" text-anchor="end" fill="#222" stroke="#222" stroke-width="0.1">0.5</text>
<line x1="194.3" y1="445.0333333333333" x2="196.5" y2="445.0333333333333" stroke="#555" stroke-width="1"/>
<text x="192.9" y="447.8333333333333" font-size="7.9" text-anchor="end" fill="#222" stroke="#222" stroke-width="0.1">1.0</text>
<line x1="194.3" y1="419.4" x2="196.5" y2="419.4" stroke="#555" stroke-width="1"/>
<text x="192.9" y="422.2" font-size="7.9" text-anchor="end" fill="#222" stroke="#222" stroke-width="0.1">1.5</text>
<line x1="196.5" y1="496.3" x2="196.5" y2="498.5" stroke="#555" stroke-width="1"/>
<text x="196.5" y="506.5" font-size="7.9" text-anchor="middle" fill="#222" stroke="#222" stroke-width="0.1">0</text>
<line x1="225.65" y1="496.3" x2="225.65" y2="498.5" stroke="#555" stroke-width="1"/>
<text x="225.65" y="506.5" font-size="7.9" text-anchor="middle" fill="#222" stroke="#222" stroke-width="0.1">10</text>
<line x1="254.8" y1="496.3" x2="254.8" y2="498.5" stroke="#555" stroke-width="1"/>
<text x="254.8" y="506.5" font-size="7.9" text-anchor="middle" fill="#222" stroke="#222" stroke-width="0.1">20</text>
<line x1="283.95000000000005" y1="496.3" x2="283.95000000000005" y2="498.5" stroke="#555" stroke-width="1"/>
<text x="283.95000000000005" y="506.5" font-size="7.9" text-anchor="middle" fill="#222" stroke="#222" stroke-width="0.1">30</text>
<line x1="313.1" y1="496.3" x2="313.1" y2="498.5" stroke="#555" stroke-width="1"/>
<text x="313.1" y="506.5" font-size="7.9" text-anchor="middle" fill="#222" stroke="#222" stroke-width="0.1">40</text>
<text x="256.2" y="417.1" font-size="7.9" text-anchor="middle" fill="#222" stroke="#222" stroke-width="0.1">SCC40 - Immunodeficient mice</text>
<text x="262.1" y="516.9" font-size="7.9" text-anchor="middle" fill="#222" stroke="#222" stroke-width="0.1">Days after inoculation</text>
<text x="179.1" y="457.85" font-size="7.9" text-anchor="middle" fill="#222" transform="rotate(-90 179.1 457.85)">Tumor volume (cm<tspan font-size="5.2" dy="-3">3</tspan><tspan dy="3">)</tspan></text>
<line x1="300.2" y1="424" x2="308.1" y2="424" stroke="#d63a8f" stroke-width="1.5"/>
<text x="314" y="426.8" font-size="7.9" text-anchor="start" fill="#222" stroke="#222" stroke-width="0.1">1</text>
<line x1="300.2" y1="432.6" x2="308.1" y2="432.6" stroke="#e8873a" stroke-width="1.5"/>
<text x="314" y="435.40000000000003" font-size="7.9" text-anchor="start" fill="#222" stroke="#222" stroke-width="0.1">2</text>
<line x1="300.2" y1="441.2" x2="308.1" y2="441.2" stroke="#8d8b45" stroke-width="1.5"/>
<text x="314" y="444.0" font-size="7.9" text-anchor="start" fill="#222" stroke="#222" stroke-width="0.1">3</text>
<polyline points="196.5,496.3 225.8,495.0 244.8,492.1 251.7,488.6 265.6,467.9 272.5,448.2" fill="none" stroke="#e8873a" stroke-width="1.35" stroke-linejoin="round"/>
<polyline points="196.5,496.3 225.8,494.8 244.8,491.4 257.0,478.3 265.6,457.5 272.5,431.5" fill="none" stroke="#8d8b45" stroke-width="1.35" stroke-linejoin="round"/>
<polyline points="196.5,496.3 225.8,494.5 244.8,489.3 257.0,473.0 265.6,450.6 272.5,428.0" fill="none" stroke="#d63a8f" stroke-width="1.35" stroke-linejoin="round"/>
<rect x="356.7" y="291.7" width="141.4" height="85.8" fill="none" stroke="#8a8a8a" stroke-width="0.9"/>
<line x1="461" y1="293.4" x2="497.5" y2="293.4" stroke="#d9d9d9" stroke-width="2.2"/>
<line x1="356.7" y1="377.3" x2="498.2" y2="377.3" stroke="#555" stroke-width="1.1"/>
<line x1="439.8" y1="377.3" x2="439.8" y2="379.6" stroke="#555" stroke-width="0.9"/>
<line x1="461.1" y1="377.3" x2="461.1" y2="379.6" stroke="#555" stroke-width="0.9"/>
<line x1="498" y1="377.3" x2="498" y2="379.6" stroke="#555" stroke-width="0.9"/>
<text x="417" y="289.6" font-size="7.9" text-anchor="middle" fill="#222" stroke="#222" stroke-width="0.1">Subclonal</text>
<text x="478.8" y="290" font-size="7.9" text-anchor="middle" fill="#222" stroke="#222" stroke-width="0.1">Clonal</text>
<text x="438.5" y="385.2" font-size="7.9" text-anchor="middle" fill="#222" stroke="#222" stroke-width="0.1">0.1</text>
<text x="461.2" y="385.2" font-size="7.9" text-anchor="middle" fill="#222" stroke="#222" stroke-width="0.1">0.25</text>
<text x="497" y="385.2" font-size="7.9" text-anchor="middle" fill="#222" stroke="#222" stroke-width="0.1">1.0</text>
<text x="431.5" y="394.3" font-size="7.9" text-anchor="middle" fill="#222" stroke="#222" stroke-width="0.1">VAF</text>
<text x="351.5" y="333.8" font-size="7.9" text-anchor="middle" fill="#222" transform="rotate(-90 351.5 333.8)">Density</text>
<clipPath id="cc"><rect x="356.7" y="291.7" width="141.4" height="85.8"/></clipPath>
<g clip-path="url(#cc)" fill="none" stroke-width="0.75" stroke-linejoin="round">
<path d="M356.9,374.51 L357.9,374.34 L358.9,374.16 L359.9,373.97 L360.9,373.77 L361.9,373.56 L362.9,373.34 L363.9,373.11 L364.9,372.86 L365.9,372.61 L366.9,372.34 L367.9,372.05 L368.9,371.75 L369.9,371.44 L370.9,371.11 L371.9,370.76 L372.9,370.40 L373.9,370.01 L374.9,369.61 L375.9,369.19 L376.9,368.75 L377.9,368.28 L378.9,367.80 L379.9,367.28 L380.9,366.75 L381.9,366.19 L382.9,365.60 L383.9,364.98 L384.9,364.34 L385.9,363.67 L386.9,362.97 L387.9,362.24 L388.9,361.47 L389.9,360.68 L390.9,359.85 L391.9,358.99 L392.9,358.10 L393.9,357.18 L394.9,356.22 L395.9,355.24 L396.9,354.22 L397.9,353.17 L398.9,352.09 L399.9,350.99 L400.9,349.85 L401.9,348.70 L402.9,347.51 L403.9,346.31 L404.9,345.09 L405.9,343.85 L406.9,342.60 L407.9,341.34 L408.9,340.07 L409.9,338.80 L410.9,337.53 L411.9,336.26 L412.9,335.00 L413.9,333.76 L414.9,332.53 L415.9,331.32 L416.9,330.14 L417.9,328.99 L418.9,327.88 L419.9,326.80 L420.9,325.77 L421.9,324.78 L422.9,323.85 L423.9,322.98 L424.9,322.16 L425.9,321.41 L426.9,320.72 L427.9,320.11 L428.9,319.56 L429.9,319.09 L430.9,318.70 L431.9,318.38 L432.9,318.15 L433.9,317.99 L434.9,317.91 L435.9,317.91 L436.9,317.99 L437.9,318.14 L438.9,318.37 L439.9,318.68 L440.9,319.06 L441.9,319.51 L442.9,320.02 L443.9,320.60 L444.9,321.24 L445.9,321.94 L446.9,322.69 L447.9,323.49 L448.9,324.34 L449.9,325.23 L450.9,326.16 L451.9,327.12 L452.9,328.11 L453.9,329.12 L454.9,330.16 L455.9,331.22 L456.9,332.29 L457.9,333.37 L458.9,334.45 L459.9,335.54 L460.9,336.64 L461.9,337.73 L462.9,338.81 L463.9,339.89 L464.9,340.96 L465.9,342.01 L466.9,343.05 L467.9,344.08 L468.9,345.09 L469.9,346.09 L470.9,347.06 L471.9,348.02 L472.9,348.95 L473.9,349.87 L474.9,350.76 L475.9,351.63 L476.9,352.48 L477.9,353.31 L478.9,354.12 L479.9,354.91 L480.9,355.67 L481.9,356.42 L482.9,357.14 L483.9,357.85 L484.9,358.53 L485.9,359.20 L486.9,359.84 L487.9,360.47 L488.9,361.08 L489.9,361.67 L490.9,362.25 L491.9,362.81 L492.9,363.35 L493.9,363.88 L494.9,364.40 L495.9,364.89 L496.9,365.38 L497.9,365.85" stroke="#e06a6a" stroke-width="0.95"/>
<path d="M356.9,376.62 L357.9,376.58 L358.9,376.53 L359.9,376.48 L360.9,376.43 L361.9,376.38 L362.9,376.32 L363.9,376.26 L364.9,376.20 L365.9,376.14 L366.9,376.07 L367.9,376.00 L368.9,375.93 L369.9,375.85 L370.9,375.77 L371.9,375.69 L372.9,375.60 L373.9,375.52 L374.9,375.42 L375.9,375.33 L376.9,375.23 L377.9,375.13 L378.9,375.02 L379.9,374.91 L380.9,374.80 L381.9,374.69 L382.9,374.57 L383.9,374.44 L384.9,374.32 L385.9,374.19 L386.9,374.05 L387.9,373.91 L388.9,373.77 L389.9,373.62 L390.9,373.47 L391.9,373.32 L392.9,373.16 L393.9,372.99 L394.9,372.82 L395.9,372.65 L396.9,372.47 L397.9,372.28 L398.9,372.09 L399.9,371.89 L400.9,371.69 L401.9,371.48 L402.9,371.26 L403.9,371.03 L404.9,370.79 L405.9,370.54 L406.9,370.29 L407.9,370.02 L408.9,369.73 L409.9,369.44 L410.9,369.13 L411.9,368.80 L412.9,368.46 L413.9,368.10 L414.9,367.72 L415.9,367.32 L416.9,366.90 L417.9,366.45 L418.9,365.98 L419.9,365.48 L420.9,364.95 L421.9,364.39 L422.9,363.80 L423.9,363.18 L424.9,362.52 L425.9,361.83 L426.9,361.09 L427.9,360.32 L428.9,359.51 L429.9,358.65 L430.9,357.75 L431.9,356.81 L432.9,355.82 L433.9,354.79 L434.9,353.71 L435.9,352.58 L436.9,351.41 L437.9,350.20 L438.9,348.94 L439.9,347.64 L440.9,346.30 L441.9,344.92 L442.9,343.50 L443.9,342.05 L444.9,340.57 L445.9,339.06 L446.9,337.53 L447.9,335.98 L448.9,334.41 L449.9,332.83 L450.9,331.25 L451.9,329.67 L452.9,328.09 L453.9,326.53 L454.9,324.99 L455.9,323.47 L456.9,321.99 L457.9,320.54 L458.9,319.14 L459.9,317.78 L460.9,316.49 L461.9,315.27 L462.9,314.11 L463.9,313.03 L464.9,312.04 L465.9,311.13 L466.9,310.32 L467.9,309.60 L468.9,308.99 L469.9,308.49 L470.9,308.09 L471.9,307.81 L472.9,307.64 L473.9,307.59 L474.9,307.66 L475.9,307.84 L476.9,308.14 L477.9,308.56 L478.9,309.09 L479.9,309.73 L480.9,310.48 L481.9,311.34 L482.9,312.30 L483.9,313.35 L484.9,314.50 L485.9,315.73 L486.9,317.05 L487.9,318.44 L488.9,319.90 L489.9,321.42 L490.9,323.00 L491.9,324.62 L492.9,326.29 L493.9,327.99 L494.9,329.72 L495.9,331.46 L496.9,333.23 L497.9,335.00" stroke="#a6d6e8"/>
<path d="M356.9,377.08 L357.9,377.06 L358.9,377.04 L359.9,377.02 L360.9,377.00 L361.9,376.98 L362.9,376.96 L363.9,376.93 L364.9,376.90 L365.9,376.87 L366.9,376.84 L367.9,376.81 L368.9,376.78 L369.9,376.74 L370.9,376.70 L371.9,376.66 L372.9,376.62 L373.9,376.58 L374.9,376.53 L375.9,376.48 L376.9,376.43 L377.9,376.37 L378.9,376.32 L379.9,376.26 L380.9,376.19 L381.9,376.13 L382.9,376.06 L383.9,375.99 L384.9,375.91 L385.9,375.83 L386.9,375.75 L387.9,375.66 L388.9,375.57 L389.9,375.48 L390.9,375.38 L391.9,375.28 L392.9,375.17 L393.9,375.06 L394.9,374.94 L395.9,374.81 L396.9,374.69 L397.9,374.55 L398.9,374.41 L399.9,374.26 L400.9,374.10 L401.9,373.94 L402.9,373.77 L403.9,373.59 L404.9,373.39 L405.9,373.19 L406.9,372.98 L407.9,372.75 L408.9,372.51 L409.9,372.26 L410.9,371.99 L411.9,371.71 L412.9,371.40 L413.9,371.08 L414.9,370.74 L415.9,370.37 L416.9,369.99 L417.9,369.57 L418.9,369.13 L419.9,368.66 L420.9,368.16 L421.9,367.63 L422.9,367.06 L423.9,366.46 L424.9,365.82 L425.9,365.14 L426.9,364.42 L427.9,363.66 L428.9,362.85 L429.9,361.99 L430.9,361.09 L431.9,360.14 L432.9,359.13 L433.9,358.08 L434.9,356.97 L435.9,355.81 L436.9,354.60 L437.9,353.34 L438.9,352.02 L439.9,350.66 L440.9,349.24 L441.9,347.77 L442.9,346.26 L443.9,344.71 L444.9,343.11 L445.9,341.48 L446.9,339.81 L447.9,338.11 L448.9,336.39 L449.9,334.64 L450.9,332.88 L451.9,331.11 L452.9,329.34 L453.9,327.58 L454.9,325.82 L455.9,324.08 L456.9,322.36 L457.9,320.68 L458.9,319.04 L459.9,317.44 L460.9,315.90 L461.9,314.42 L462.9,313.01 L463.9,311.68 L464.9,310.43 L465.9,309.28 L466.9,308.22 L467.9,307.26 L468.9,306.42 L469.9,305.69 L470.9,305.07 L471.9,304.58 L472.9,304.21 L473.9,303.97 L474.9,303.87 L475.9,303.89 L476.9,304.04 L477.9,304.32 L478.9,304.74 L479.9,305.28 L480.9,305.94 L481.9,306.73 L482.9,307.64 L483.9,308.66 L484.9,309.78 L485.9,311.01 L486.9,312.34 L487.9,313.76 L488.9,315.26 L489.9,316.83 L490.9,318.47 L491.9,320.18 L492.9,321.93 L493.9,323.73 L494.9,325.57 L495.9,327.44 L496.9,329.32 L497.9,331.22" stroke="#a5d69e"/>
<path d="M356.9,377.44 L357.9,377.42 L358.9,377.40 L359.9,377.37 L360.9,377.34 L361.9,377.31 L362.9,377.28 L363.9,377.25 L364.9,377.21 L365.9,377.18 L366.9,377.14 L367.9,377.10 L368.9,377.06 L369.9,377.01 L370.9,376.96 L371.9,376.91 L372.9,376.86 L373.9,376.81 L374.9,376.75 L375.9,376.69 L376.9,376.62 L377.9,376.56 L378.9,376.49 L379.9,376.42 L380.9,376.34 L381.9,376.26 L382.9,376.18 L383.9,376.10 L384.9,376.01 L385.9,375.91 L386.9,375.82 L387.9,375.72 L388.9,375.61 L389.9,375.50 L390.9,375.39 L391.9,375.27 L392.9,375.15 L393.9,375.02 L394.9,374.88 L395.9,374.74 L396.9,374.60 L397.9,374.45 L398.9,374.29 L399.9,374.12 L400.9,373.95 L401.9,373.76 L402.9,373.57 L403.9,373.37 L404.9,373.16 L405.9,372.94 L406.9,372.70 L407.9,372.46 L408.9,372.19 L409.9,371.92 L410.9,371.63 L411.9,371.32 L412.9,370.99 L413.9,370.65 L414.9,370.28 L415.9,369.89 L416.9,369.47 L417.9,369.04 L418.9,368.57 L419.9,368.07 L420.9,367.55 L421.9,366.99 L422.9,366.40 L423.9,365.77 L424.9,365.10 L425.9,364.40 L426.9,363.65 L427.9,362.86 L428.9,362.03 L429.9,361.15 L430.9,360.23 L431.9,359.25 L432.9,358.23 L433.9,357.16 L434.9,356.04 L435.9,354.88 L436.9,353.66 L437.9,352.39 L438.9,351.07 L439.9,349.71 L440.9,348.30 L441.9,346.85 L442.9,345.35 L443.9,343.81 L444.9,342.24 L445.9,340.63 L446.9,339.00 L447.9,337.34 L448.9,335.66 L449.9,333.96 L450.9,332.26 L451.9,330.55 L452.9,328.84 L453.9,327.14 L454.9,325.45 L455.9,323.79 L456.9,322.15 L457.9,320.55 L458.9,318.99 L459.9,317.48 L460.9,316.03 L461.9,314.65 L462.9,313.33 L463.9,312.09 L464.9,310.94 L465.9,309.87 L466.9,308.90 L467.9,308.04 L468.9,307.28 L469.9,306.63 L470.9,306.10 L471.9,305.68 L472.9,305.39 L473.9,305.22 L474.9,305.17 L475.9,305.25 L476.9,305.46 L477.9,305.79 L478.9,306.24 L479.9,306.82 L480.9,307.51 L481.9,308.32 L482.9,309.24 L483.9,310.27 L484.9,311.40 L485.9,312.62 L486.9,313.94 L487.9,315.34 L488.9,316.82 L489.9,318.37 L490.9,319.99 L491.9,321.66 L492.9,323.38 L493.9,325.14 L494.9,326.94 L495.9,328.76 L496.9,330.60 L497.9,332.45" stroke="#e3a6d2" stroke-width="0.6"/>
<path d="M356.9,376.64 L357.9,376.62 L358.9,376.60 L359.9,376.57 L360.9,376.54 L361.9,376.51 L362.9,376.48 L363.9,376.45 L364.9,376.41 L365.9,376.38 L366.9,376.34 L367.9,376.30 L368.9,376.26 L369.9,376.21 L370.9,376.16 L371.9,376.11 L372.9,376.06 L373.9,376.01 L374.9,375.95 L375.9,375.89 L376.9,375.82 L377.9,375.76 L378.9,375.69 L379.9,375.62 L380.9,375.54 L381.9,375.46 L382.9,375.38 L383.9,375.30 L384.9,375.21 L385.9,375.11 L386.9,375.02 L387.9,374.92 L388.9,374.81 L389.9,374.70 L390.9,374.59 L391.9,374.47 L392.9,374.35 L393.9,374.22 L394.9,374.08 L395.9,373.94 L396.9,373.80 L397.9,373.65 L398.9,373.49 L399.9,373.32 L400.9,373.15 L401.9,372.96 L402.9,372.77 L403.9,372.57 L404.9,372.36 L405.9,372.14 L406.9,371.90 L407.9,371.66 L408.9,371.39 L409.9,371.12 L410.9,370.83 L411.9,370.52 L412.9,370.19 L413.9,369.85 L414.9,369.48 L415.9,369.09 L416.9,368.67 L417.9,368.24 L418.9,367.77 L419.9,367.27 L420.9,366.75 L421.9,366.19 L422.9,365.60 L423.9,364.97 L424.9,364.30 L425.9,363.60 L426.9,362.85 L427.9,362.06 L428.9,361.23 L429.9,360.35 L430.9,359.43 L431.9,358.45 L432.9,357.43 L433.9,356.36 L434.9,355.24 L435.9,354.08 L436.9,352.86 L437.9,351.59 L438.9,350.27 L439.9,348.91 L440.9,347.50 L441.9,346.05 L442.9,344.55 L443.9,343.01 L444.9,341.44 L445.9,339.83 L446.9,338.20 L447.9,336.54 L448.9,334.86 L449.9,333.16 L450.9,331.46 L451.9,329.75 L452.9,328.04 L453.9,326.34 L454.9,324.65 L455.9,322.99 L456.9,321.35 L457.9,319.75 L458.9,318.19 L459.9,316.68 L460.9,315.23 L461.9,313.85 L462.9,312.53 L463.9,311.29 L464.9,310.14 L465.9,309.07 L466.9,308.10 L467.9,307.24 L468.9,306.48 L469.9,305.83 L470.9,305.30 L471.9,304.88 L472.9,304.59 L473.9,304.42 L474.9,304.37 L475.9,304.45 L476.9,304.66 L477.9,304.99 L478.9,305.44 L479.9,306.02 L480.9,306.71 L481.9,307.52 L482.9,308.44 L483.9,309.47 L484.9,310.60 L485.9,311.82 L486.9,313.14 L487.9,314.54 L488.9,316.02 L489.9,317.57 L490.9,319.19 L491.9,320.86 L492.9,322.58 L493.9,324.34 L494.9,326.14 L495.9,327.96 L496.9,329.80 L497.9,331.65" stroke="#9a86c0" stroke-width="0.55"/>
<path d="M356.9,376.99 L357.9,376.97 L358.9,376.95 L359.9,376.92 L360.9,376.89 L361.9,376.86 L362.9,376.83 L363.9,376.80 L364.9,376.76 L365.9,376.73 L366.9,376.69 L367.9,376.65 L368.9,376.61 L369.9,376.56 L370.9,376.51 L371.9,376.46 L372.9,376.41 L373.9,376.36 L374.9,376.30 L375.9,376.24 L376.9,376.17 L377.9,376.11 L378.9,376.04 L379.9,375.97 L380.9,375.89 L381.9,375.81 L382.9,375.73 L383.9,375.65 L384.9,375.56 L385.9,375.46 L386.9,375.37 L387.9,375.27 L388.9,375.16 L389.9,375.05 L390.9,374.94 L391.9,374.82 L392.9,374.70 L393.9,374.57 L394.9,374.43 L395.9,374.29 L396.9,374.15 L397.9,374.00 L398.9,373.84 L399.9,373.67 L400.9,373.50 L401.9,373.31 L402.9,373.12 L403.9,372.92 L404.9,372.71 L405.9,372.49 L406.9,372.25 L407.9,372.01 L408.9,371.74 L409.9,371.47 L410.9,371.18 L411.9,370.87 L412.9,370.54 L413.9,370.20 L414.9,369.83 L415.9,369.44 L416.9,369.02 L417.9,368.59 L418.9,368.12 L419.9,367.62 L420.9,367.10 L421.9,366.54 L422.9,365.95 L423.9,365.32 L424.9,364.65 L425.9,363.95 L426.9,363.20 L427.9,362.41 L428.9,361.58 L429.9,360.70 L430.9,359.78 L431.9,358.80 L432.9,357.78 L433.9,356.71 L434.9,355.59 L435.9,354.43 L436.9,353.21 L437.9,351.94 L438.9,350.62 L439.9,349.26 L440.9,347.85 L441.9,346.40 L442.9,344.90 L443.9,343.36 L444.9,341.79 L445.9,340.18 L446.9,338.55 L447.9,336.89 L448.9,335.21 L449.9,333.51 L450.9,331.81 L451.9,330.10 L452.9,328.39 L453.9,326.69 L454.9,325.00 L455.9,323.34 L456.9,321.70 L457.9,320.10 L458.9,318.54 L459.9,317.03 L460.9,315.58 L461.9,314.20 L462.9,312.88 L463.9,311.64 L464.9,310.49 L465.9,309.42 L466.9,308.45 L467.9,307.59 L468.9,306.83 L469.9,306.18 L470.9,305.65 L471.9,305.23 L472.9,304.94 L473.9,304.77 L474.9,304.72 L475.9,304.80 L476.9,305.01 L477.9,305.34 L478.9,305.79 L479.9,306.37 L480.9,307.06 L481.9,307.87 L482.9,308.79 L483.9,309.82 L484.9,310.95 L485.9,312.17 L486.9,313.49 L487.9,314.89 L488.9,316.37 L489.9,317.92 L490.9,319.54 L491.9,321.21 L492.9,322.93 L493.9,324.69 L494.9,326.49 L495.9,328.31 L496.9,330.15 L497.9,332.00" stroke="#6f7cb8" stroke-width="0.7"/>
</g>
<text x="362.5" y="304" font-size="8" fill="#7650a0" stroke="#7650a0" stroke-width="0.08">SCC31</text>
<text x="362.5" y="310.8" font-size="8" fill="#6db36d" stroke="#6db36d" stroke-width="0.08">SCC32</text>
<text x="362.5" y="317.5" font-size="8" fill="#3f4f9c" stroke="#3f4f9c" stroke-width="0.08">SCC35</text>
<text x="362.5" y="324.2" font-size="8" fill="#7fc3df" stroke="#7fc3df" stroke-width="0.08">SCC37</text>
<text x="362.5" y="331.5" font-size="8" fill="#e195cb" stroke="#e195cb" stroke-width="0.08">SCC40</text>
<text x="362.5" y="339.6" font-size="8" fill="#c2404e" stroke="#c2404e" stroke-width="0.08">Parental UVB</text>
<rect x="355.7" y="409.2" width="95.1" height="86.4" fill="none" stroke="#8a8a8a" stroke-width="0.9"/>
<line x1="355.7" y1="409.2" x2="355.7" y2="495.6" stroke="#555" stroke-width="1.1"/>
<line x1="355.7" y1="495.6" x2="450.8" y2="495.6" stroke="#555" stroke-width="1.1"/>
<line x1="356.6" y1="495.6" x2="356.6" y2="497.8" stroke="#555" stroke-width="0.9"/>
<text x="356.6" y="505.4" font-size="7.9" text-anchor="middle" fill="#222" stroke="#222" stroke-width="0.1">−100</text>
<line x1="378.8" y1="495.6" x2="378.8" y2="497.8" stroke="#555" stroke-width="0.9"/>
<text x="378.8" y="505.4" font-size="7.9" text-anchor="middle" fill="#222" stroke="#222" stroke-width="0.1">−50</text>
<line x1="401.8" y1="495.6" x2="401.8" y2="497.8" stroke="#555" stroke-width="0.9"/>
<text x="401.8" y="505.4" font-size="7.9" text-anchor="middle" fill="#222" stroke="#222" stroke-width="0.1">0</text>
<line x1="424.2" y1="495.6" x2="424.2" y2="497.8" stroke="#555" stroke-width="0.9"/>
<text x="424.2" y="505.4" font-size="7.9" text-anchor="middle" fill="#222" stroke="#222" stroke-width="0.1">50</text>
<line x1="446.2" y1="495.6" x2="446.2" y2="497.8" stroke="#555" stroke-width="0.9"/>
<text x="446.2" y="505.4" font-size="7.9" text-anchor="middle" fill="#222" stroke="#222" stroke-width="0.1">100</text>
<line x1="353.5" y1="409.7" x2="355.7" y2="409.7" stroke="#555" stroke-width="0.9"/>
<text x="352.2" y="412.5" font-size="7.9" text-anchor="end" fill="#222" stroke="#222" stroke-width="0.1">50</text>
<line x1="353.5" y1="437.6" x2="355.7" y2="437.6" stroke="#555" stroke-width="0.9"/>
<text x="352.2" y="440.40000000000003" font-size="7.9" text-anchor="end" fill="#222" stroke="#222" stroke-width="0.1">0</text>
<line x1="353.5" y1="466.5" x2="355.7" y2="466.5" stroke="#555" stroke-width="0.9"/>
<text x="352.2" y="469.3" font-size="7.9" text-anchor="end" fill="#222" stroke="#222" stroke-width="0.1">−50</text>
<line x1="353.5" y1="495.1" x2="355.7" y2="495.1" stroke="#555" stroke-width="0.9"/>
<text x="352.2" y="497.90000000000003" font-size="7.9" text-anchor="end" fill="#222" stroke="#222" stroke-width="0.1">−100</text>
<text x="409.2" y="516.6" font-size="7.9" text-anchor="middle" fill="#222" stroke="#222" stroke-width="0.1">PC 1 (24.12%)</text>
<text x="335.5" y="452" font-size="7.9" text-anchor="middle" fill="#222" transform="rotate(-90 335.5 452)">PC 2 (9.37%)</text>
<circle cx="401.8" cy="431.2" r="1.9" fill="#dc6a5c"/>
<circle cx="403.5" cy="430" r="1.9" fill="#dc6a5c"/>
<circle cx="407" cy="430.7" r="1.9" fill="#dc6a5c"/>
<circle cx="400.7" cy="433.5" r="1.9" fill="#dc6a5c"/>
<circle cx="404.2" cy="434.6" r="1.9" fill="#dc6a5c"/>
<circle cx="393.5" cy="436.5" r="1.9" fill="#dc6a5c"/>
<circle cx="397.2" cy="437.4" r="1.9" fill="#dc6a5c"/>
<circle cx="390.3" cy="441.5" r="1.9" fill="#dc6a5c"/>
<circle cx="395.8" cy="442" r="1.9" fill="#dc6a5c"/>
<circle cx="387.3" cy="444.3" r="1.9" fill="#dc6a5c"/>
<circle cx="392" cy="444.5" r="1.9" fill="#dc6a5c"/>
<circle cx="398.8" cy="445.7" r="1.9" fill="#dc6a5c"/>
<circle cx="400.5" cy="447.3" r="1.9" fill="#dc6a5c"/>
<circle cx="402.8" cy="447.3" r="1.9" fill="#dc6a5c"/>
<circle cx="406.5" cy="449.6" r="1.9" fill="#dc6a5c"/>
<circle cx="408.1" cy="448.5" r="1.9" fill="#dc6a5c"/>
<circle cx="397.2" cy="454.2" r="1.9" fill="#dc6a5c"/>
<circle cx="394.2" cy="456.5" r="1.9" fill="#dc6a5c"/>
<circle cx="390.3" cy="458.4" r="1.9" fill="#dc6a5c"/>
<circle cx="397.2" cy="472.7" r="1.9" fill="#dc6a5c"/>
<circle cx="398.8" cy="485.4" r="1.9" fill="#dc6a5c"/>
<circle cx="392" cy="488.8" r="1.9" fill="#dc6a5c"/>
<circle cx="393.1" cy="492.8" r="1.9" fill="#dc6a5c"/>
<circle cx="389.6" cy="444.5" r="1.9" fill="#dc6a5c"/>
<circle cx="395.4" cy="438.8" r="1.9" fill="#dc6a5c"/>
<circle cx="413.8" cy="439.7" r="1.9" fill="#3e8a48"/>
<circle cx="420.3" cy="440.4" r="1.9" fill="#3e8a48"/>
<circle cx="422.6" cy="425" r="1.9" fill="#3e8a48"/>
<circle cx="423.5" cy="427.2" r="1.9" fill="#3e8a48"/>
<circle cx="430" cy="428.8" r="1.9" fill="#3e8a48"/>
<circle cx="434.2" cy="422.4" r="1.9" fill="#3e8a48"/>
<circle cx="437.4" cy="425.8" r="1.9" fill="#3e8a48"/>
<circle cx="443.4" cy="419.6" r="1.9" fill="#3e8a48"/>
<circle cx="446.2" cy="422.6" r="1.9" fill="#3e8a48"/>
<circle cx="445.7" cy="427.7" r="1.9" fill="#3e8a48"/>
<circle cx="443.4" cy="437" r="1.9" fill="#3e8a48"/>
<circle cx="360.3" cy="423" r="1.7" fill="none" stroke="#eba096" stroke-width="0.7"/>
<circle cx="364.2" cy="424.7" r="1.7" fill="none" stroke="#eba096" stroke-width="0.7"/>
<circle cx="366.5" cy="415" r="1.7" fill="none" stroke="#eba096" stroke-width="0.7"/>
<circle cx="368.8" cy="417.3" r="1.7" fill="none" stroke="#eba096" stroke-width="0.7"/>
<circle cx="367.7" cy="419.6" r="1.7" fill="none" stroke="#eba096" stroke-width="0.7"/>
<circle cx="369.5" cy="420.3" r="1.7" fill="none" stroke="#eba096" stroke-width="0.7"/>
<circle cx="371.2" cy="412" r="1.7" fill="none" stroke="#4e9458" stroke-width="0.7"/>
<circle cx="371.2" cy="416.8" r="1.7" fill="none" stroke="#4e9458" stroke-width="0.7"/>
<circle cx="370" cy="414.5" r="1.7" fill="none" stroke="#4e9458" stroke-width="0.7"/>
<text x="456.6" y="437.7" font-size="7.8" text-anchor="start" fill="#222" stroke="#222" stroke-width="0.1">Time point</text>
<circle cx="460" cy="443.8" r="2.4" fill="none" stroke="#333" stroke-width="0.7"/>
<text x="465.8" y="446.4" font-size="7.8" fill="#222"><tspan font-style="italic">In vitro</tspan> (day 0)</text>
<circle cx="460" cy="451.5" r="2.6" fill="#111"/>
<text x="465.8" y="454" font-size="7.8" fill="#222"><tspan font-style="italic">In vivo</tspan> (day 6+)</text>
<text x="456.6" y="468.5" font-size="7.8" text-anchor="start" fill="#222" stroke="#222" stroke-width="0.1">SCC phenotype</text>
<circle cx="460" cy="474.2" r="2.6" fill="#e07a70"/>
<text x="466.2" y="477" font-size="7.8" text-anchor="start" fill="#222" stroke="#222" stroke-width="0.1">Nonrejected</text>
<circle cx="460" cy="481.8" r="2.6" fill="#3e8a48"/>
<text x="466.2" y="484.4" font-size="7.8" text-anchor="start" fill="#222" stroke="#222" stroke-width="0.1">Rejected</text>
<line x1="33.8" y1="534.7" x2="33.8" y2="630.1" stroke="#444" stroke-width="1.05"/>
<line x1="33.3" y1="629.6" x2="140.6" y2="629.6" stroke="#444" stroke-width="1.05"/>
<line x1="31.599999999999998" y1="542.7" x2="33.8" y2="542.7" stroke="#333" stroke-width="0.9"/>
<text x="29.999999999999996" y="545.4000000000001" font-size="7.9" text-anchor="end" fill="#222" stroke="#222" stroke-width="0.1">3</text>
<line x1="31.599999999999998" y1="557.6" x2="33.8" y2="557.6" stroke="#333" stroke-width="0.9"/>
<text x="29.999999999999996" y="560.3000000000001" font-size="7.9" text-anchor="end" fill="#222" stroke="#222" stroke-width="0.1">2</text>
<line x1="31.599999999999998" y1="572.6" x2="33.8" y2="572.6" stroke="#333" stroke-width="0.9"/>
<text x="29.999999999999996" y="575.3000000000001" font-size="7.9" text-anchor="end" fill="#222" stroke="#222" stroke-width="0.1">1</text>
<line x1="31.599999999999998" y1="587.4" x2="33.8" y2="587.4" stroke="#333" stroke-width="0.9"/>
<text x="29.999999999999996" y="590.1" font-size="7.9" text-anchor="end" fill="#222" stroke="#222" stroke-width="0.1">0</text>
<line x1="31.599999999999998" y1="601.8" x2="33.8" y2="601.8" stroke="#333" stroke-width="0.9"/>
<text x="29.999999999999996" y="604.5" font-size="7.9" text-anchor="end" fill="#222" stroke="#222" stroke-width="0.1">−1</text>
<line x1="31.599999999999998" y1="616.4" x2="33.8" y2="616.4" stroke="#333" stroke-width="0.9"/>
<text x="29.999999999999996" y="619.1" font-size="7.9" text-anchor="end" fill="#222" stroke="#222" stroke-width="0.1">−2</text>
<line x1="49.5" y1="629.6" x2="49.5" y2="631.8000000000001" stroke="#333" stroke-width="0.9"/>
<text x="49.5" y="640.1" font-size="7.9" text-anchor="middle" fill="#222" stroke="#222" stroke-width="0.1">0</text>
<line x1="74.9" y1="629.6" x2="74.9" y2="631.8000000000001" stroke="#333" stroke-width="0.9"/>
<text x="74.9" y="640.1" font-size="7.9" text-anchor="middle" fill="#222" stroke="#222" stroke-width="0.1">6</text>
<line x1="100.3" y1="629.6" x2="100.3" y2="631.8000000000001" stroke="#333" stroke-width="0.9"/>
<text x="100.3" y="640.1" font-size="7.9" text-anchor="middle" fill="#222" stroke="#222" stroke-width="0.1">10</text>
<line x1="125.1" y1="629.6" x2="125.1" y2="631.8000000000001" stroke="#333" stroke-width="0.9"/>
<text x="125.1" y="640.1" font-size="7.9" text-anchor="middle" fill="#222" stroke="#222" stroke-width="0.1">16</text>
<text x="88.9" y="533.7" font-size="7.9" text-anchor="middle" fill="#222" stroke="#222" stroke-width="0.1">T cell function</text>
<text x="88.3" y="650.5" font-size="7.9" text-anchor="middle" fill="#222" stroke="#222" stroke-width="0.1">Day</text>
<text x="17.5" y="578.8" font-size="8.2" text-anchor="middle" fill="#222" transform="rotate(-90 17.5 578.8)">Score</text>
<g stroke="#e8887a" stroke-width="0.8" fill="none"><line x1="44.2" y1="618.5" x2="44.2" y2="619"/><line x1="44.2" y1="621.7" x2="44.2" y2="622.2"/><rect x="40" y="619" width="8.399999999999999" height="2.7000000000000455"/><line x1="40" y1="620.3" x2="48.4" y2="620.3"/></g>
<g stroke="#5a9a5e" stroke-width="1.2" fill="none"><line x1="54.5" y1="615" x2="54.5" y2="615.3"/><line x1="54.5" y1="617.3" x2="54.5" y2="617.6"/><rect x="50.3" y="615.3" width="8.400000000000006" height="2.0"/><line x1="50.3" y1="616.3" x2="58.7" y2="616.3"/></g>
<g stroke="#e8887a" stroke-width="0.8" fill="none"><line x1="69.69999999999999" y1="574.1" x2="69.69999999999999" y2="582.5"/><line x1="69.69999999999999" y1="595.4" x2="69.69999999999999" y2="609.7"/><rect x="65.8" y="582.5" width="7.799999999999997" height="12.899999999999977"/><line x1="65.8" y1="587.4" x2="73.6" y2="587.4"/></g>
<g stroke="#5a9a5e" stroke-width="0.8" fill="none"><line x1="79.75" y1="557.1" x2="79.75" y2="557.8"/><line x1="79.75" y1="575.2" x2="79.75" y2="575.6"/><rect x="75.8" y="557.8" width="7.900000000000006" height="17.40000000000009"/><line x1="75.8" y1="566.6" x2="83.7" y2="566.6"/></g>
<g stroke="#e8887a" stroke-width="0.8" fill="none"><line x1="95.80000000000001" y1="574.8" x2="95.80000000000001" y2="575.5"/><line x1="95.80000000000001" y1="587.4" x2="95.80000000000001" y2="599.1"/><rect x="91.9" y="575.5" width="7.799999999999997" height="11.899999999999977"/><line x1="91.9" y1="587" x2="99.7" y2="587"/></g>
<g stroke="#5a9a5e" stroke-width="1.2" fill="none"><line x1="105.4" y1="559" x2="105.4" y2="559.3"/><line x1="105.4" y1="561.5" x2="105.4" y2="561.8"/><rect x="101.2" y="559.3" width="8.399999999999991" height="2.2000000000000455"/><line x1="101.2" y1="560.4" x2="109.6" y2="560.4"/></g>
<g stroke="#e8887a" stroke-width="0.8" fill="none"><line x1="120.65" y1="574.4" x2="120.65" y2="579.9"/><line x1="120.65" y1="592" x2="120.65" y2="603.6"/><rect x="116.7" y="579.9" width="7.8999999999999915" height="12.100000000000023"/><line x1="116.7" y1="583.2" x2="124.6" y2="583.2"/></g>
<g stroke="#5a9a5e" stroke-width="0.8" fill="none"><line x1="131.15" y1="550.9" x2="131.15" y2="553.1"/><line x1="131.15" y1="558.9" x2="131.15" y2="563.7"/><rect x="127.3" y="553.1" width="7.700000000000003" height="5.7999999999999545"/><line x1="127.3" y1="556" x2="135" y2="556"/></g>
<text x="49.5" y="604.8" font-size="6.7" text-anchor="middle" fill="#222" stroke="#222" stroke-width="0.1">0.032</text>
<path d="M43.7,605.6 L43.7,606.6 L54.8,606.6 L54.8,605.6" fill="none" stroke="#777" stroke-width="0.7"/>
<text x="75.3" y="550.0999999999999" font-size="6.7" text-anchor="middle" fill="#222" stroke="#222" stroke-width="0.1">0.0018</text>
<path d="M68.7,551.0 L68.7,552.0 L82,552.0 L82,551.0" fill="none" stroke="#777" stroke-width="0.7"/>
<text x="100.3" y="550.0999999999999" font-size="6.7" text-anchor="middle" fill="#222" stroke="#222" stroke-width="0.1">0.00012</text>
<path d="M94.1,550.5 L94.1,551.5 L105.2,551.5 L105.2,550.5" fill="none" stroke="#777" stroke-width="0.7"/>
<text x="127.3" y="544.5" font-size="6.7" text-anchor="middle" fill="#222" stroke="#222" stroke-width="0.1">0.00012</text>
<path d="M118.5,544.4 L118.5,545.4 L131.7,545.4 L131.7,544.4" fill="none" stroke="#777" stroke-width="0.7"/>
<line x1="197.3" y1="534.7" x2="197.3" y2="630.1" stroke="#444" stroke-width="1.05"/>
<line x1="196.8" y1="629.6" x2="304" y2="629.6" stroke="#444" stroke-width="1.05"/>
<line x1="195.10000000000002" y1="562" x2="197.3" y2="562" stroke="#333" stroke-width="0.9"/>
<text x="193.5" y="564.7" font-size="7.9" text-anchor="end" fill="#222" stroke="#222" stroke-width="0.1">2</text>
<line x1="195.10000000000002" y1="590.3" x2="197.3" y2="590.3" stroke="#333" stroke-width="0.9"/>
<text x="193.5" y="593.0" font-size="7.9" text-anchor="end" fill="#222" stroke="#222" stroke-width="0.1">0</text>
<line x1="195.10000000000002" y1="618.6" x2="197.3" y2="618.6" stroke="#333" stroke-width="0.9"/>
<text x="193.5" y="621.3000000000001" font-size="7.9" text-anchor="end" fill="#222" stroke="#222" stroke-width="0.1">−2</text>
<line x1="212.1" y1="629.6" x2="212.1" y2="631.8000000000001" stroke="#333" stroke-width="0.9"/>
<text x="212.1" y="640.1" font-size="7.9" text-anchor="middle" fill="#222" stroke="#222" stroke-width="0.1">0</text>
<line x1="237.5" y1="629.6" x2="237.5" y2="631.8000000000001" stroke="#333" stroke-width="0.9"/>
<text x="237.5" y="640.1" font-size="7.9" text-anchor="middle" fill="#222" stroke="#222" stroke-width="0.1">6</text>
<line x1="264" y1="629.6" x2="264" y2="631.8000000000001" stroke="#333" stroke-width="0.9"/>
<text x="264" y="640.1" font-size="7.9" text-anchor="middle" fill="#222" stroke="#222" stroke-width="0.1">10</text>
<line x1="289.5" y1="629.6" x2="289.5" y2="631.8000000000001" stroke="#333" stroke-width="0.9"/>
<text x="289.5" y="640.1" font-size="7.9" text-anchor="middle" fill="#222" stroke="#222" stroke-width="0.1">16</text>
<text x="253.5" y="533.8" font-size="7.9" text-anchor="middle" fill="#222" stroke="#222" stroke-width="0.1">T cell infiltration</text>
<text x="251.5" y="650.8" font-size="7.9" text-anchor="middle" fill="#222" stroke="#222" stroke-width="0.1">Day</text>
<text x="180.5" y="578.8" font-size="8.2" text-anchor="middle" fill="#222" transform="rotate(-90 180.5 578.8)">Score</text>
<g stroke="#e8887a" stroke-width="0.8" fill="none"><line x1="206.8" y1="614.2" x2="206.8" y2="614.2"/><line x1="206.8" y1="623" x2="206.8" y2="625.2"/><rect x="202.6" y="614.2" width="8.400000000000006" height="8.799999999999955"/><line x1="202.6" y1="617.3" x2="211" y2="617.3"/></g>
<g stroke="#5a9a5e" stroke-width="1.2" fill="none"><line x1="217.39999999999998" y1="617.9" x2="217.39999999999998" y2="617.9"/><line x1="217.39999999999998" y1="619" x2="217.39999999999998" y2="619"/><rect x="213.2" y="617.9" width="8.400000000000006" height="1.1000000000000227"/><line x1="213.2" y1="618.5" x2="221.6" y2="618.5"/></g>
<g stroke="#e8887a" stroke-width="0.8" fill="none"><line x1="232.35000000000002" y1="580.3" x2="232.35000000000002" y2="584.1"/><line x1="232.35000000000002" y1="612.4" x2="232.35000000000002" y2="621.2"/><rect x="228.3" y="584.1" width="8.099999999999994" height="28.299999999999955"/><line x1="228.3" y1="593.2" x2="236.4" y2="593.2"/></g>
<g stroke="#5a9a5e" stroke-width="0.8" fill="none"><line x1="242.75" y1="552.2" x2="242.75" y2="560.9"/><line x1="242.75" y1="575.2" x2="242.75" y2="578.1"/><rect x="238.7" y="560.9" width="8.100000000000023" height="14.300000000000068"/><line x1="238.7" y1="568.8" x2="246.8" y2="568.8"/></g>
<g stroke="#e8887a" stroke-width="0.8" fill="none"><line x1="257.79999999999995" y1="572.2" x2="257.79999999999995" y2="578.8"/><line x1="257.79999999999995" y1="612.8" x2="257.79999999999995" y2="622.4"/><rect x="253.7" y="578.8" width="8.199999999999989" height="34.0"/><line x1="253.7" y1="583" x2="261.9" y2="583"/></g>
<g stroke="#5a9a5e" stroke-width="0.8" fill="none"><line x1="268.5" y1="565.5" x2="268.5" y2="567"/><line x1="268.5" y1="573.7" x2="268.5" y2="576.4"/><rect x="264.5" y="567" width="8.0" height="6.7000000000000455"/><line x1="264.5" y1="569.3" x2="272.5" y2="569.3"/></g>
<g stroke="#e8887a" stroke-width="0.8" fill="none"><line x1="283.20000000000005" y1="566" x2="283.20000000000005" y2="575.5"/><line x1="283.20000000000005" y1="588.5" x2="283.20000000000005" y2="588.5"/><rect x="279.1" y="575.5" width="8.199999999999989" height="13.0"/><line x1="279.1" y1="579.9" x2="287.3" y2="579.9"/></g>
<g stroke="#5a9a5e" stroke-width="0.8" fill="none"><line x1="293.6" y1="559.8" x2="293.6" y2="559.8"/><line x1="293.6" y1="567" x2="293.6" y2="567"/><rect x="289.5" y="559.8" width="8.199999999999989" height="7.2000000000000455"/><line x1="289.5" y1="563.1" x2="297.7" y2="563.1"/></g>
<text x="212.1" y="608.1999999999999" font-size="6.7" text-anchor="middle" fill="#222" stroke="#222" stroke-width="0.1">0.78</text>
<path d="M205.5,608.9 L205.5,609.9 L217.6,609.9 L217.6,608.9" fill="none" stroke="#777" stroke-width="0.7"/>
<text x="238.2" y="547.3" font-size="6.7" text-anchor="middle" fill="#222" stroke="#222" stroke-width="0.1">0.00035</text>
<path d="M232,548.1 L232,549.1 L245.3,549.1 L245.3,548.1" fill="none" stroke="#777" stroke-width="0.7"/>
<text x="263" y="560.0999999999999" font-size="6.7" text-anchor="middle" fill="#222" stroke="#222" stroke-width="0.1">0.0018</text>
<path d="M256.3,561.4 L256.3,562.4 L269.2,562.4 L269.2,561.4" fill="none" stroke="#777" stroke-width="0.7"/>
<text x="288.4" y="553.5" font-size="6.7" text-anchor="middle" fill="#222" stroke="#222" stroke-width="0.1">0.00035</text>
<path d="M281.8,553.9 L281.8,554.9 L295,554.9 L295,553.9" fill="none" stroke="#777" stroke-width="0.7"/>
<line x1="378.9" y1="539.2" x2="378.9" y2="629.6" stroke="#444" stroke-width="1.05"/>
<line x1="378.4" y1="629.1" x2="485" y2="629.1" stroke="#444" stroke-width="1.05"/>
<line x1="376.7" y1="563.1" x2="378.9" y2="563.1" stroke="#333" stroke-width="0.9"/>
<text x="375.09999999999997" y="565.8000000000001" font-size="7.9" text-anchor="end" fill="#222" stroke="#222" stroke-width="0.1">0.4</text>
<line x1="376.7" y1="588.3" x2="378.9" y2="588.3" stroke="#333" stroke-width="0.9"/>
<text x="375.09999999999997" y="591.0" font-size="7.9" text-anchor="end" fill="#222" stroke="#222" stroke-width="0.1">0.0</text>
<line x1="376.7" y1="613.7" x2="378.9" y2="613.7" stroke="#333" stroke-width="0.9"/>
<text x="375.09999999999997" y="616.4000000000001" font-size="7.9" text-anchor="end" fill="#222" stroke="#222" stroke-width="0.1">−0.4</text>
<line x1="393.7" y1="629.1" x2="393.7" y2="631.3000000000001" stroke="#333" stroke-width="0.9"/>
<text x="393.7" y="639.6" font-size="7.9" text-anchor="middle" fill="#222" stroke="#222" stroke-width="0.1">0</text>
<line x1="418" y1="629.1" x2="418" y2="631.3000000000001" stroke="#333" stroke-width="0.9"/>
<text x="418" y="639.6" font-size="7.9" text-anchor="middle" fill="#222" stroke="#222" stroke-width="0.1">6</text>
<line x1="443" y1="629.1" x2="443" y2="631.3000000000001" stroke="#333" stroke-width="0.9"/>
<text x="443" y="639.6" font-size="7.9" text-anchor="middle" fill="#222" stroke="#222" stroke-width="0.1">10</text>
<line x1="467.3" y1="629.1" x2="467.3" y2="631.3000000000001" stroke="#333" stroke-width="0.9"/>
<text x="467.3" y="639.6" font-size="7.9" text-anchor="middle" fill="#222" stroke="#222" stroke-width="0.1">16</text>
<text x="427.9" y="533.8" font-size="7.9" text-anchor="middle" fill="#222" stroke="#222" stroke-width="0.1">IFNγ signaling</text>
<text x="428" y="651.5" font-size="7.9" text-anchor="middle" fill="#222" stroke="#222" stroke-width="0.1">Day</text>
<text x="345.3" y="582" font-size="7.9" text-anchor="middle" fill="#222" transform="rotate(-90 345.3 582)">Pathway activity level</text>
<text x="353.5" y="582" font-size="7.9" text-anchor="middle" fill="#222" transform="rotate(-90 353.5 582)">(GSVA enrichment score)</text>
<g stroke="#e8887a" stroke-width="0.8" fill="none"><line x1="388.70000000000005" y1="610.7" x2="388.70000000000005" y2="612.2"/><line x1="388.70000000000005" y1="621.3" x2="388.70000000000005" y2="623.4"/><rect x="384.8" y="612.2" width="7.800000000000011" height="9.099999999999909"/><line x1="384.8" y1="618.1" x2="392.6" y2="618.1"/></g>
<g stroke="#5a9a5e" stroke-width="0.8" fill="none"><line x1="398.6" y1="609" x2="398.6" y2="610.1"/><line x1="398.6" y1="617.9" x2="398.6" y2="618.6"/><rect x="394.8" y="610.1" width="7.599999999999966" height="7.7999999999999545"/><line x1="394.8" y1="614.3" x2="402.4" y2="614.3"/></g>
<g stroke="#e8887a" stroke-width="0.8" fill="none"><line x1="413.3" y1="555.1" x2="413.3" y2="561.4"/><line x1="413.3" y1="608" x2="413.3" y2="622.8"/><rect x="409.6" y="561.4" width="7.399999999999977" height="46.60000000000002"/><line x1="409.6" y1="565.3" x2="417" y2="565.3"/></g>
<line x1="409.6" y1="563.2" x2="417" y2="563.2" stroke="#e8887a" stroke-width="0.8"/>
<g stroke="#5a9a5e" stroke-width="1.2" fill="none"><line x1="423.1" y1="555.5" x2="423.1" y2="555.7"/><line x1="423.1" y1="556.6" x2="423.1" y2="556.8"/><rect x="419.1" y="555.7" width="8.0" height="0.8999999999999773"/><line x1="419.1" y1="556.2" x2="427.1" y2="556.2"/></g>
<g stroke="#e8887a" stroke-width="0.8" fill="none"><line x1="437.4" y1="573.7" x2="437.4" y2="575.2"/><line x1="437.4" y1="619.6" x2="437.4" y2="625.5"/><rect x="433.5" y="575.2" width="7.800000000000011" height="44.39999999999998"/><line x1="433.5" y1="579" x2="441.3" y2="579"/></g>
<g stroke="#5a9a5e" stroke-width="0.8" fill="none"><line x1="447.2" y1="557.2" x2="447.2" y2="563.6"/><line x1="447.2" y1="574.1" x2="447.2" y2="574.8"/><rect x="443.4" y="563.6" width="7.600000000000023" height="10.5"/><line x1="443.4" y1="568.8" x2="451" y2="568.8"/></g>
<g stroke="#e8887a" stroke-width="0.8" fill="none"><line x1="461.8" y1="556.8" x2="461.8" y2="562.5"/><line x1="461.8" y1="586.2" x2="461.8" y2="618.6"/><rect x="457.8" y="562.5" width="8.0" height="23.700000000000045"/><line x1="457.8" y1="573.5" x2="465.8" y2="573.5"/></g>
<g stroke="#5a9a5e" stroke-width="0.8" fill="none"><line x1="471.75" y1="563.6" x2="471.75" y2="563.6"/><line x1="471.75" y1="576.3" x2="471.75" y2="587.5"/><rect x="467.7" y="563.6" width="8.100000000000023" height="12.699999999999932"/><line x1="467.7" y1="567.8" x2="475.8" y2="567.8"/></g>
<text x="393.7" y="604.8" font-size="6.7" text-anchor="middle" fill="#222" stroke="#222" stroke-width="0.1">0.0002</text>
<path d="M388,605.3 L388,606.3 L399.6,606.3 L399.6,605.3" fill="none" stroke="#777" stroke-width="0.7"/>
<text x="418" y="547.0999999999999" font-size="6.7" text-anchor="middle" fill="#222" stroke="#222" stroke-width="0.1">0.0002</text>
<path d="M412.3,548.1999999999999 L412.3,549.1999999999999 L423.5,549.1999999999999 L423.5,548.1999999999999" fill="none" stroke="#777" stroke-width="0.7"/>
<text x="441.9" y="551.9" font-size="6.7" text-anchor="middle" fill="#222" stroke="#222" stroke-width="0.1">0.0002</text>
<path d="M435.6,553.0 L435.6,554.0 L447.2,554.0 L447.2,553.0" fill="none" stroke="#777" stroke-width="0.7"/>
<text x="467.3" y="551.3" font-size="6.7" text-anchor="middle" fill="#222" stroke="#222" stroke-width="0.1">0.1</text>
<path d="M461.4,552.4 L461.4,553.4 L472.6,553.4 L472.6,552.4" fill="none" stroke="#777" stroke-width="0.7"/>
<text x="167.3" y="661.7" font-size="7.8" text-anchor="start" fill="#222" stroke="#222" stroke-width="0.1">SCC phenotype</text>
<g stroke="#e8887a" stroke-width="0.8" fill="none"><rect x="234.7" y="657.8" width="5" height="3.6"/><line x1="234.7" y1="659.6" x2="239.7" y2="659.6"/><line x1="237.2" y1="656.6" x2="237.2" y2="657.8"/><line x1="237.2" y1="661.4" x2="237.2" y2="662.6"/></g>
<text x="244.2" y="661.7" font-size="7.8" text-anchor="start" fill="#222" stroke="#222" stroke-width="0.1">Nonrejected</text>
<g stroke="#5a9a5e" stroke-width="0.8" fill="none"><rect x="304.5" y="657.8" width="5" height="3.6"/><line x1="304.5" y1="659.6" x2="309.5" y2="659.6"/><line x1="307.0" y1="656.6" x2="307.0" y2="657.8"/><line x1="307.0" y1="661.4" x2="307.0" y2="662.6"/></g>
<text x="314.8" y="661.7" font-size="7.8" text-anchor="start" fill="#222" stroke="#222" stroke-width="0.1">Rejected</text>
</svg>
</body></html>
